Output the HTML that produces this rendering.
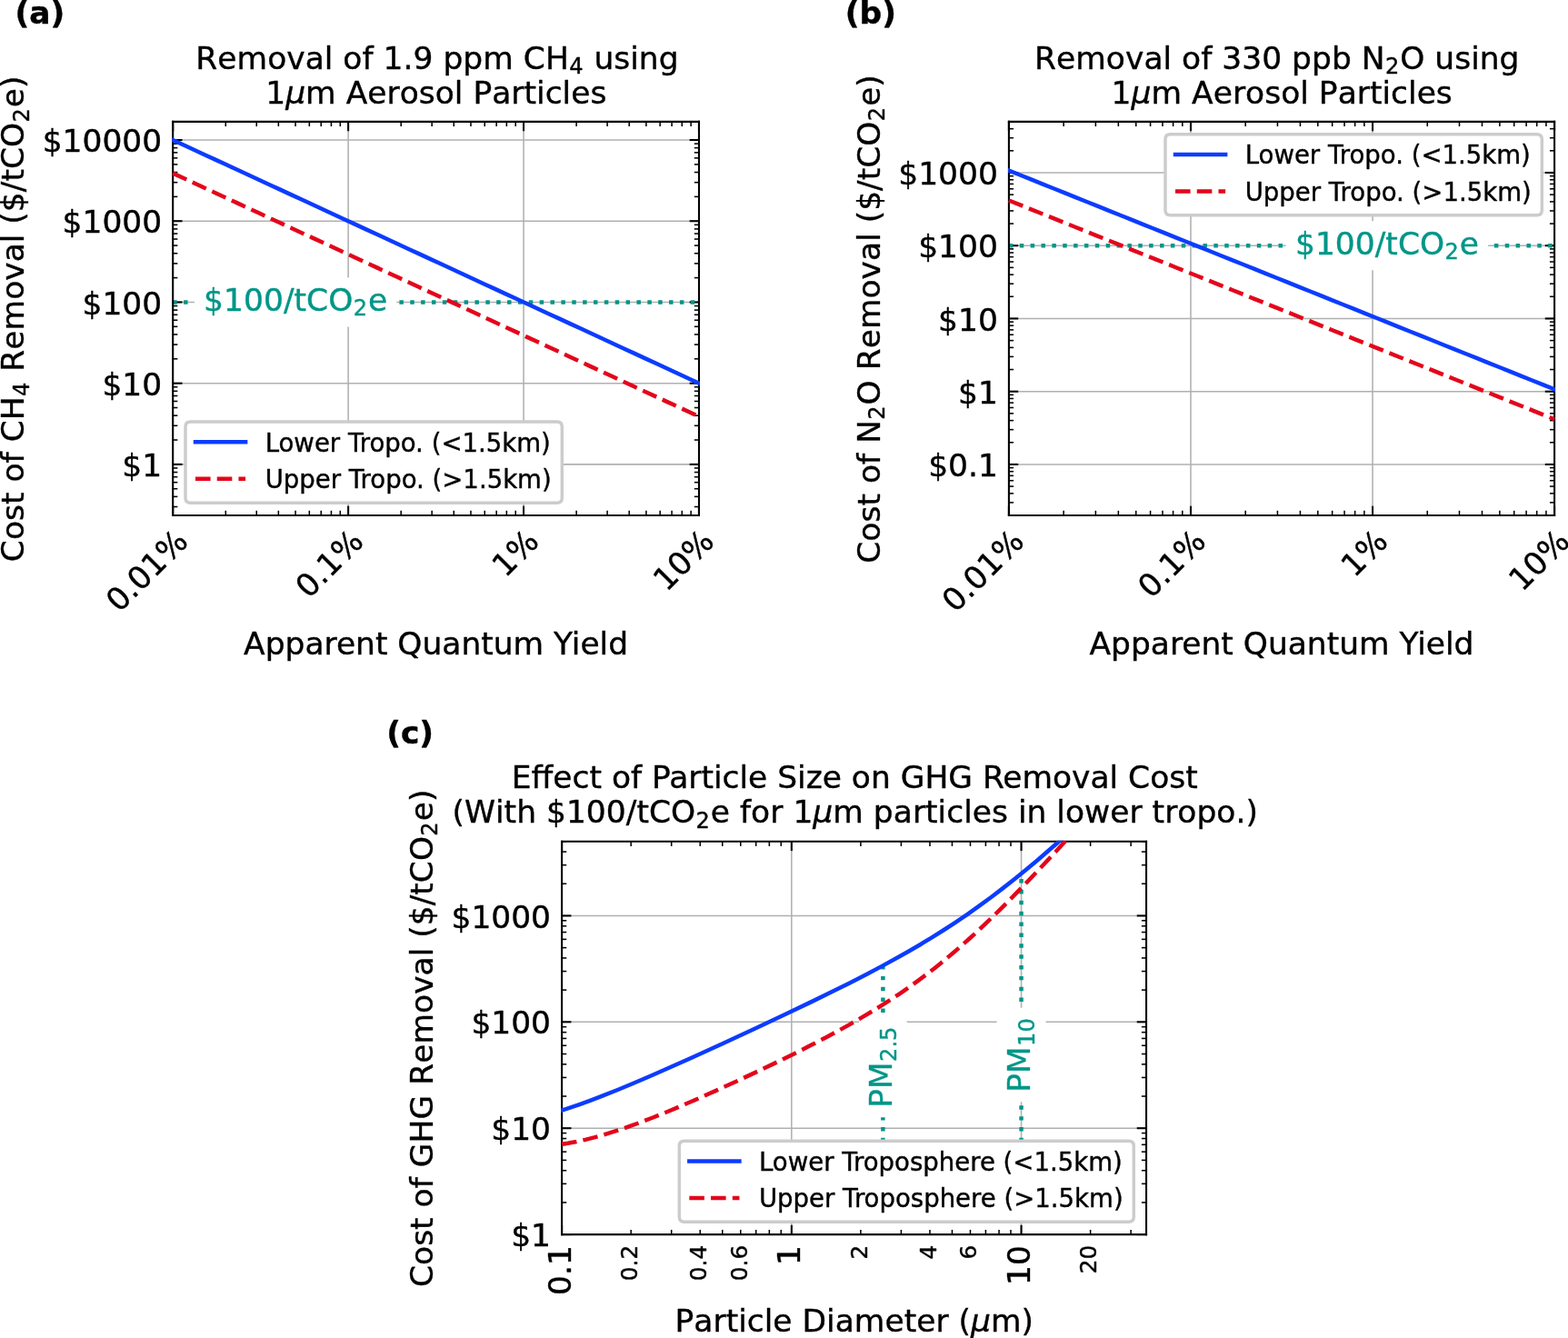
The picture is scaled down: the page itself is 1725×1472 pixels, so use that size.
<!DOCTYPE html>
<html lang="en"><head><meta charset="utf-8"><title>Figure</title>
<style>html,body{margin:0;padding:0;background:#fff}svg{display:block}text{font-family:"DejaVu Sans","Liberation Sans",sans-serif;stroke:#000;stroke-width:.4px;stroke-linejoin:round}tspan[style*="009688"]{stroke:#009688}</style></head>
<body>
<svg width="1725" height="1472" viewBox="0 0 1725 1472">
 <defs>
  <style type="text/css">*{stroke-linejoin: round; stroke-linecap: butt}</style>
 </defs>
 <g id="figure_1">
  <g id="patch_1">
   <path d="M 0 1472 L 1725 1472 L 1725 0 L 0 0 z
" style="fill: #ffffff"/>
  </g>
  <g id="axes_1">
   <g id="patch_2">
    <path d="M 190.2 566.95 L 768.96 566.95 L 768.96 133.9 L 190.2 133.9 z
" style="fill: #ffffff"/>
   </g>
   <g id="matplotlib.axis_1">
    <g id="xtick_1">
     <g id="line2d_1">
      <path d="M 190.2 566.95 L 190.2 133.9 
" clip-path="url(#pf84088dabc)" style="fill: none; stroke: #b0b0b0; stroke-width: 1.55; stroke-linecap: square"/>
     </g>
     <g id="line2d_2">
      <defs>
       <path id="m36705e40bf" d="M 0 0 L 0 -10.333333 
" style="stroke: #000000; stroke-width: 2.066667"/>
      </defs>
      <g>
       <use href="#m36705e40bf" x="190.2" y="566.95" style="stroke: #000000; stroke-width: 2.066667"/>
      </g>
     </g>
     <g id="line2d_3">
      <defs>
       <path id="me6bb0235ae" d="M 0 0 L 0 10.333333 
" style="stroke: #000000; stroke-width: 2.066667"/>
      </defs>
      <g>
       <use href="#me6bb0235ae" x="190.2" y="133.9" style="stroke: #000000; stroke-width: 2.066667"/>
      </g>
     </g>
     <g id="text_1">
      <text style="font-size: 34.444444px; text-anchor: end" x="208.706679" y="597.512234" transform="rotate(-45 208.706679 597.512234)">0.01%</text>
     </g>
    </g>
    <g id="xtick_2">
     <g id="line2d_4">
      <path d="M 383.12 566.95 L 383.12 133.9 
" clip-path="url(#pf84088dabc)" style="fill: none; stroke: #b0b0b0; stroke-width: 1.55; stroke-linecap: square"/>
     </g>
     <g id="line2d_5">
      <g>
       <use href="#m36705e40bf" x="383.12" y="566.95" style="stroke: #000000; stroke-width: 2.066667"/>
      </g>
     </g>
     <g id="line2d_6">
      <g>
       <use href="#me6bb0235ae" x="383.12" y="133.9" style="stroke: #000000; stroke-width: 2.066667"/>
      </g>
     </g>
     <g id="text_2">
      <text style="font-size: 34.444444px; text-anchor: end" x="401.626679" y="597.512234" transform="rotate(-45 401.626679 597.512234)">0.1%</text>
     </g>
    </g>
    <g id="xtick_3">
     <g id="line2d_7">
      <path d="M 576.04 566.95 L 576.04 133.9 
" clip-path="url(#pf84088dabc)" style="fill: none; stroke: #b0b0b0; stroke-width: 1.55; stroke-linecap: square"/>
     </g>
     <g id="line2d_8">
      <g>
       <use href="#m36705e40bf" x="576.04" y="566.95" style="stroke: #000000; stroke-width: 2.066667"/>
      </g>
     </g>
     <g id="line2d_9">
      <g>
       <use href="#me6bb0235ae" x="576.04" y="133.9" style="stroke: #000000; stroke-width: 2.066667"/>
      </g>
     </g>
     <g id="text_3">
      <text style="font-size: 34.444444px; text-anchor: end" x="594.546679" y="597.512234" transform="rotate(-45 594.546679 597.512234)">1%</text>
     </g>
    </g>
    <g id="xtick_4">
     <g id="line2d_10">
      <path d="M 768.96 566.95 L 768.96 133.9 
" clip-path="url(#pf84088dabc)" style="fill: none; stroke: #b0b0b0; stroke-width: 1.55; stroke-linecap: square"/>
     </g>
     <g id="line2d_11">
      <g>
       <use href="#m36705e40bf" x="768.96" y="566.95" style="stroke: #000000; stroke-width: 2.066667"/>
      </g>
     </g>
     <g id="line2d_12">
      <g>
       <use href="#me6bb0235ae" x="768.96" y="133.9" style="stroke: #000000; stroke-width: 2.066667"/>
      </g>
     </g>
     <g id="text_4">
      <text style="font-size: 34.444444px; text-anchor: end" x="787.466679" y="597.512234" transform="rotate(-45 787.466679 597.512234)">10%</text>
     </g>
    </g>
    <g id="xtick_5">
     <g id="line2d_13">
      <defs>
       <path id="me19a42edf8" d="M 0 0 L 0 -5.166667 
" style="stroke: #000000; stroke-width: 1.55"/>
      </defs>
      <g>
       <use href="#me19a42edf8" x="248.274707" y="566.95" style="stroke: #000000; stroke-width: 1.55"/>
      </g>
     </g>
     <g id="line2d_14">
      <defs>
       <path id="m64f8e5ad82" d="M 0 0 L 0 5.166667 
" style="stroke: #000000; stroke-width: 1.55"/>
      </defs>
      <g>
       <use href="#m64f8e5ad82" x="248.274707" y="133.9" style="stroke: #000000; stroke-width: 1.55"/>
      </g>
     </g>
    </g>
    <g id="xtick_6">
     <g id="line2d_15">
      <g>
       <use href="#me19a42edf8" x="282.246232" y="566.95" style="stroke: #000000; stroke-width: 1.55"/>
      </g>
     </g>
     <g id="line2d_16">
      <g>
       <use href="#m64f8e5ad82" x="282.246232" y="133.9" style="stroke: #000000; stroke-width: 1.55"/>
      </g>
     </g>
    </g>
    <g id="xtick_7">
     <g id="line2d_17">
      <g>
       <use href="#me19a42edf8" x="306.349414" y="566.95" style="stroke: #000000; stroke-width: 1.55"/>
      </g>
     </g>
     <g id="line2d_18">
      <g>
       <use href="#m64f8e5ad82" x="306.349414" y="133.9" style="stroke: #000000; stroke-width: 1.55"/>
      </g>
     </g>
    </g>
    <g id="xtick_8">
     <g id="line2d_19">
      <g>
       <use href="#me19a42edf8" x="325.045293" y="566.95" style="stroke: #000000; stroke-width: 1.55"/>
      </g>
     </g>
     <g id="line2d_20">
      <g>
       <use href="#m64f8e5ad82" x="325.045293" y="133.9" style="stroke: #000000; stroke-width: 1.55"/>
      </g>
     </g>
    </g>
    <g id="xtick_9">
     <g id="line2d_21">
      <g>
       <use href="#me19a42edf8" x="340.320939" y="566.95" style="stroke: #000000; stroke-width: 1.55"/>
      </g>
     </g>
     <g id="line2d_22">
      <g>
       <use href="#m64f8e5ad82" x="340.320939" y="133.9" style="stroke: #000000; stroke-width: 1.55"/>
      </g>
     </g>
    </g>
    <g id="xtick_10">
     <g id="line2d_23">
      <g>
       <use href="#me19a42edf8" x="353.236314" y="566.95" style="stroke: #000000; stroke-width: 1.55"/>
      </g>
     </g>
     <g id="line2d_24">
      <g>
       <use href="#m64f8e5ad82" x="353.236314" y="133.9" style="stroke: #000000; stroke-width: 1.55"/>
      </g>
     </g>
    </g>
    <g id="xtick_11">
     <g id="line2d_25">
      <g>
       <use href="#me19a42edf8" x="364.42412" y="566.95" style="stroke: #000000; stroke-width: 1.55"/>
      </g>
     </g>
     <g id="line2d_26">
      <g>
       <use href="#m64f8e5ad82" x="364.42412" y="133.9" style="stroke: #000000; stroke-width: 1.55"/>
      </g>
     </g>
    </g>
    <g id="xtick_12">
     <g id="line2d_27">
      <g>
       <use href="#me19a42edf8" x="374.292465" y="566.95" style="stroke: #000000; stroke-width: 1.55"/>
      </g>
     </g>
     <g id="line2d_28">
      <g>
       <use href="#m64f8e5ad82" x="374.292465" y="133.9" style="stroke: #000000; stroke-width: 1.55"/>
      </g>
     </g>
    </g>
    <g id="xtick_13">
     <g id="line2d_29">
      <g>
       <use href="#me19a42edf8" x="441.194707" y="566.95" style="stroke: #000000; stroke-width: 1.55"/>
      </g>
     </g>
     <g id="line2d_30">
      <g>
       <use href="#m64f8e5ad82" x="441.194707" y="133.9" style="stroke: #000000; stroke-width: 1.55"/>
      </g>
     </g>
    </g>
    <g id="xtick_14">
     <g id="line2d_31">
      <g>
       <use href="#me19a42edf8" x="475.166232" y="566.95" style="stroke: #000000; stroke-width: 1.55"/>
      </g>
     </g>
     <g id="line2d_32">
      <g>
       <use href="#m64f8e5ad82" x="475.166232" y="133.9" style="stroke: #000000; stroke-width: 1.55"/>
      </g>
     </g>
    </g>
    <g id="xtick_15">
     <g id="line2d_33">
      <g>
       <use href="#me19a42edf8" x="499.269414" y="566.95" style="stroke: #000000; stroke-width: 1.55"/>
      </g>
     </g>
     <g id="line2d_34">
      <g>
       <use href="#m64f8e5ad82" x="499.269414" y="133.9" style="stroke: #000000; stroke-width: 1.55"/>
      </g>
     </g>
    </g>
    <g id="xtick_16">
     <g id="line2d_35">
      <g>
       <use href="#me19a42edf8" x="517.965293" y="566.95" style="stroke: #000000; stroke-width: 1.55"/>
      </g>
     </g>
     <g id="line2d_36">
      <g>
       <use href="#m64f8e5ad82" x="517.965293" y="133.9" style="stroke: #000000; stroke-width: 1.55"/>
      </g>
     </g>
    </g>
    <g id="xtick_17">
     <g id="line2d_37">
      <g>
       <use href="#me19a42edf8" x="533.240939" y="566.95" style="stroke: #000000; stroke-width: 1.55"/>
      </g>
     </g>
     <g id="line2d_38">
      <g>
       <use href="#m64f8e5ad82" x="533.240939" y="133.9" style="stroke: #000000; stroke-width: 1.55"/>
      </g>
     </g>
    </g>
    <g id="xtick_18">
     <g id="line2d_39">
      <g>
       <use href="#me19a42edf8" x="546.156314" y="566.95" style="stroke: #000000; stroke-width: 1.55"/>
      </g>
     </g>
     <g id="line2d_40">
      <g>
       <use href="#m64f8e5ad82" x="546.156314" y="133.9" style="stroke: #000000; stroke-width: 1.55"/>
      </g>
     </g>
    </g>
    <g id="xtick_19">
     <g id="line2d_41">
      <g>
       <use href="#me19a42edf8" x="557.34412" y="566.95" style="stroke: #000000; stroke-width: 1.55"/>
      </g>
     </g>
     <g id="line2d_42">
      <g>
       <use href="#m64f8e5ad82" x="557.34412" y="133.9" style="stroke: #000000; stroke-width: 1.55"/>
      </g>
     </g>
    </g>
    <g id="xtick_20">
     <g id="line2d_43">
      <g>
       <use href="#me19a42edf8" x="567.212465" y="566.95" style="stroke: #000000; stroke-width: 1.55"/>
      </g>
     </g>
     <g id="line2d_44">
      <g>
       <use href="#m64f8e5ad82" x="567.212465" y="133.9" style="stroke: #000000; stroke-width: 1.55"/>
      </g>
     </g>
    </g>
    <g id="xtick_21">
     <g id="line2d_45">
      <g>
       <use href="#me19a42edf8" x="634.114707" y="566.95" style="stroke: #000000; stroke-width: 1.55"/>
      </g>
     </g>
     <g id="line2d_46">
      <g>
       <use href="#m64f8e5ad82" x="634.114707" y="133.9" style="stroke: #000000; stroke-width: 1.55"/>
      </g>
     </g>
    </g>
    <g id="xtick_22">
     <g id="line2d_47">
      <g>
       <use href="#me19a42edf8" x="668.086232" y="566.95" style="stroke: #000000; stroke-width: 1.55"/>
      </g>
     </g>
     <g id="line2d_48">
      <g>
       <use href="#m64f8e5ad82" x="668.086232" y="133.9" style="stroke: #000000; stroke-width: 1.55"/>
      </g>
     </g>
    </g>
    <g id="xtick_23">
     <g id="line2d_49">
      <g>
       <use href="#me19a42edf8" x="692.189414" y="566.95" style="stroke: #000000; stroke-width: 1.55"/>
      </g>
     </g>
     <g id="line2d_50">
      <g>
       <use href="#m64f8e5ad82" x="692.189414" y="133.9" style="stroke: #000000; stroke-width: 1.55"/>
      </g>
     </g>
    </g>
    <g id="xtick_24">
     <g id="line2d_51">
      <g>
       <use href="#me19a42edf8" x="710.885293" y="566.95" style="stroke: #000000; stroke-width: 1.55"/>
      </g>
     </g>
     <g id="line2d_52">
      <g>
       <use href="#m64f8e5ad82" x="710.885293" y="133.9" style="stroke: #000000; stroke-width: 1.55"/>
      </g>
     </g>
    </g>
    <g id="xtick_25">
     <g id="line2d_53">
      <g>
       <use href="#me19a42edf8" x="726.160939" y="566.95" style="stroke: #000000; stroke-width: 1.55"/>
      </g>
     </g>
     <g id="line2d_54">
      <g>
       <use href="#m64f8e5ad82" x="726.160939" y="133.9" style="stroke: #000000; stroke-width: 1.55"/>
      </g>
     </g>
    </g>
    <g id="xtick_26">
     <g id="line2d_55">
      <g>
       <use href="#me19a42edf8" x="739.076314" y="566.95" style="stroke: #000000; stroke-width: 1.55"/>
      </g>
     </g>
     <g id="line2d_56">
      <g>
       <use href="#m64f8e5ad82" x="739.076314" y="133.9" style="stroke: #000000; stroke-width: 1.55"/>
      </g>
     </g>
    </g>
    <g id="xtick_27">
     <g id="line2d_57">
      <g>
       <use href="#me19a42edf8" x="750.26412" y="566.95" style="stroke: #000000; stroke-width: 1.55"/>
      </g>
     </g>
     <g id="line2d_58">
      <g>
       <use href="#m64f8e5ad82" x="750.26412" y="133.9" style="stroke: #000000; stroke-width: 1.55"/>
      </g>
     </g>
    </g>
    <g id="xtick_28">
     <g id="line2d_59">
      <g>
       <use href="#me19a42edf8" x="760.132465" y="566.95" style="stroke: #000000; stroke-width: 1.55"/>
      </g>
     </g>
     <g id="line2d_60">
      <g>
       <use href="#m64f8e5ad82" x="760.132465" y="133.9" style="stroke: #000000; stroke-width: 1.55"/>
      </g>
     </g>
    </g>
    <g id="text_5">
     <text style="font-size: 34.444444px; text-anchor: middle" x="479.58" y="719.899519" transform="rotate(-0 479.58 719.899519)">Apparent Quantum Yield</text>
    </g>
   </g>
   <g id="matplotlib.axis_2">
    <g id="ytick_1">
     <g id="line2d_61">
      <path d="M 190.2 510.87 L 768.96 510.87 
" clip-path="url(#pf84088dabc)" style="fill: none; stroke: #b0b0b0; stroke-width: 1.55; stroke-linecap: square"/>
     </g>
     <g id="line2d_62">
      <defs>
       <path id="m5118e85f27" d="M 0 0 L 10.333333 0 
" style="stroke: #000000; stroke-width: 2.066667"/>
      </defs>
      <g>
       <use href="#m5118e85f27" x="190.2" y="510.87" style="stroke: #000000; stroke-width: 2.066667"/>
      </g>
     </g>
     <g id="line2d_63">
      <defs>
       <path id="mf02be981b4" d="M 0 0 L -10.333333 0 
" style="stroke: #000000; stroke-width: 2.066667"/>
      </defs>
      <g>
       <use href="#mf02be981b4" x="768.96" y="510.87" style="stroke: #000000; stroke-width: 2.066667"/>
      </g>
     </g>
     <g id="text_6">
      <text style="font-size: 34.444444px; text-anchor: end" x="178.144444" y="523.956198" transform="rotate(-0 178.144444 523.956198)">$1</text>
     </g>
    </g>
    <g id="ytick_2">
     <g id="line2d_64">
      <path d="M 190.2 421.66 L 768.96 421.66 
" clip-path="url(#pf84088dabc)" style="fill: none; stroke: #b0b0b0; stroke-width: 1.55; stroke-linecap: square"/>
     </g>
     <g id="line2d_65">
      <g>
       <use href="#m5118e85f27" x="190.2" y="421.66" style="stroke: #000000; stroke-width: 2.066667"/>
      </g>
     </g>
     <g id="line2d_66">
      <g>
       <use href="#mf02be981b4" x="768.96" y="421.66" style="stroke: #000000; stroke-width: 2.066667"/>
      </g>
     </g>
     <g id="text_7">
      <text style="font-size: 34.444444px; text-anchor: end" x="178.144444" y="434.746198" transform="rotate(-0 178.144444 434.746198)">$10</text>
     </g>
    </g>
    <g id="ytick_3">
     <g id="line2d_67">
      <path d="M 190.2 332.45 L 768.96 332.45 
" clip-path="url(#pf84088dabc)" style="fill: none; stroke: #b0b0b0; stroke-width: 1.55; stroke-linecap: square"/>
     </g>
     <g id="line2d_68">
      <g>
       <use href="#m5118e85f27" x="190.2" y="332.45" style="stroke: #000000; stroke-width: 2.066667"/>
      </g>
     </g>
     <g id="line2d_69">
      <g>
       <use href="#mf02be981b4" x="768.96" y="332.45" style="stroke: #000000; stroke-width: 2.066667"/>
      </g>
     </g>
     <g id="text_8">
      <text style="font-size: 34.444444px; text-anchor: end" x="178.144444" y="345.536198" transform="rotate(-0 178.144444 345.536198)">$100</text>
     </g>
    </g>
    <g id="ytick_4">
     <g id="line2d_70">
      <path d="M 190.2 243.24 L 768.96 243.24 
" clip-path="url(#pf84088dabc)" style="fill: none; stroke: #b0b0b0; stroke-width: 1.55; stroke-linecap: square"/>
     </g>
     <g id="line2d_71">
      <g>
       <use href="#m5118e85f27" x="190.2" y="243.24" style="stroke: #000000; stroke-width: 2.066667"/>
      </g>
     </g>
     <g id="line2d_72">
      <g>
       <use href="#mf02be981b4" x="768.96" y="243.24" style="stroke: #000000; stroke-width: 2.066667"/>
      </g>
     </g>
     <g id="text_9">
      <text style="font-size: 34.444444px; text-anchor: end" x="178.144444" y="256.326198" transform="rotate(-0 178.144444 256.326198)">$1000</text>
     </g>
    </g>
    <g id="ytick_5">
     <g id="line2d_73">
      <path d="M 190.2 154.03 L 768.96 154.03 
" clip-path="url(#pf84088dabc)" style="fill: none; stroke: #b0b0b0; stroke-width: 1.55; stroke-linecap: square"/>
     </g>
     <g id="line2d_74">
      <g>
       <use href="#m5118e85f27" x="190.2" y="154.03" style="stroke: #000000; stroke-width: 2.066667"/>
      </g>
     </g>
     <g id="line2d_75">
      <g>
       <use href="#mf02be981b4" x="768.96" y="154.03" style="stroke: #000000; stroke-width: 2.066667"/>
      </g>
     </g>
     <g id="text_10">
      <text style="font-size: 34.444444px; text-anchor: end" x="178.144444" y="167.116198" transform="rotate(-0 178.144444 167.116198)">$10000</text>
     </g>
    </g>
    <g id="ytick_6">
     <g id="line2d_76">
      <defs>
       <path id="mf9ce0bf6b2" d="M 0 0 L 5.166667 0 
" style="stroke: #000000; stroke-width: 1.55"/>
      </defs>
      <g>
       <use href="#mf9ce0bf6b2" x="190.2" y="557.516013" style="stroke: #000000; stroke-width: 1.55"/>
      </g>
     </g>
     <g id="line2d_77">
      <defs>
       <path id="mf81f3b6706" d="M 0 0 L -5.166667 0 
" style="stroke: #000000; stroke-width: 1.55"/>
      </defs>
      <g>
       <use href="#mf81f3b6706" x="768.96" y="557.516013" style="stroke: #000000; stroke-width: 1.55"/>
      </g>
     </g>
    </g>
    <g id="ytick_7">
     <g id="line2d_78">
      <g>
       <use href="#mf9ce0bf6b2" x="190.2" y="546.370228" style="stroke: #000000; stroke-width: 1.55"/>
      </g>
     </g>
     <g id="line2d_79">
      <g>
       <use href="#mf81f3b6706" x="768.96" y="546.370228" style="stroke: #000000; stroke-width: 1.55"/>
      </g>
     </g>
    </g>
    <g id="ytick_8">
     <g id="line2d_80">
      <g>
       <use href="#mf9ce0bf6b2" x="190.2" y="537.724886" style="stroke: #000000; stroke-width: 1.55"/>
      </g>
     </g>
     <g id="line2d_81">
      <g>
       <use href="#mf81f3b6706" x="768.96" y="537.724886" style="stroke: #000000; stroke-width: 1.55"/>
      </g>
     </g>
    </g>
    <g id="ytick_9">
     <g id="line2d_82">
      <g>
       <use href="#mf9ce0bf6b2" x="190.2" y="530.661127" style="stroke: #000000; stroke-width: 1.55"/>
      </g>
     </g>
     <g id="line2d_83">
      <g>
       <use href="#mf81f3b6706" x="768.96" y="530.661127" style="stroke: #000000; stroke-width: 1.55"/>
      </g>
     </g>
    </g>
    <g id="ytick_10">
     <g id="line2d_84">
      <g>
       <use href="#mf9ce0bf6b2" x="190.2" y="524.688804" style="stroke: #000000; stroke-width: 1.55"/>
      </g>
     </g>
     <g id="line2d_85">
      <g>
       <use href="#mf81f3b6706" x="768.96" y="524.688804" style="stroke: #000000; stroke-width: 1.55"/>
      </g>
     </g>
    </g>
    <g id="ytick_11">
     <g id="line2d_86">
      <g>
       <use href="#mf9ce0bf6b2" x="190.2" y="519.515342" style="stroke: #000000; stroke-width: 1.55"/>
      </g>
     </g>
     <g id="line2d_87">
      <g>
       <use href="#mf81f3b6706" x="768.96" y="519.515342" style="stroke: #000000; stroke-width: 1.55"/>
      </g>
     </g>
    </g>
    <g id="ytick_12">
     <g id="line2d_88">
      <g>
       <use href="#mf9ce0bf6b2" x="190.2" y="514.952026" style="stroke: #000000; stroke-width: 1.55"/>
      </g>
     </g>
     <g id="line2d_89">
      <g>
       <use href="#mf81f3b6706" x="768.96" y="514.952026" style="stroke: #000000; stroke-width: 1.55"/>
      </g>
     </g>
    </g>
    <g id="ytick_13">
     <g id="line2d_90">
      <g>
       <use href="#mf9ce0bf6b2" x="190.2" y="484.015114" style="stroke: #000000; stroke-width: 1.55"/>
      </g>
     </g>
     <g id="line2d_91">
      <g>
       <use href="#mf81f3b6706" x="768.96" y="484.015114" style="stroke: #000000; stroke-width: 1.55"/>
      </g>
     </g>
    </g>
    <g id="ytick_14">
     <g id="line2d_92">
      <g>
       <use href="#mf9ce0bf6b2" x="190.2" y="468.306013" style="stroke: #000000; stroke-width: 1.55"/>
      </g>
     </g>
     <g id="line2d_93">
      <g>
       <use href="#mf81f3b6706" x="768.96" y="468.306013" style="stroke: #000000; stroke-width: 1.55"/>
      </g>
     </g>
    </g>
    <g id="ytick_15">
     <g id="line2d_94">
      <g>
       <use href="#mf9ce0bf6b2" x="190.2" y="457.160228" style="stroke: #000000; stroke-width: 1.55"/>
      </g>
     </g>
     <g id="line2d_95">
      <g>
       <use href="#mf81f3b6706" x="768.96" y="457.160228" style="stroke: #000000; stroke-width: 1.55"/>
      </g>
     </g>
    </g>
    <g id="ytick_16">
     <g id="line2d_96">
      <g>
       <use href="#mf9ce0bf6b2" x="190.2" y="448.514886" style="stroke: #000000; stroke-width: 1.55"/>
      </g>
     </g>
     <g id="line2d_97">
      <g>
       <use href="#mf81f3b6706" x="768.96" y="448.514886" style="stroke: #000000; stroke-width: 1.55"/>
      </g>
     </g>
    </g>
    <g id="ytick_17">
     <g id="line2d_98">
      <g>
       <use href="#mf9ce0bf6b2" x="190.2" y="441.451127" style="stroke: #000000; stroke-width: 1.55"/>
      </g>
     </g>
     <g id="line2d_99">
      <g>
       <use href="#mf81f3b6706" x="768.96" y="441.451127" style="stroke: #000000; stroke-width: 1.55"/>
      </g>
     </g>
    </g>
    <g id="ytick_18">
     <g id="line2d_100">
      <g>
       <use href="#mf9ce0bf6b2" x="190.2" y="435.478804" style="stroke: #000000; stroke-width: 1.55"/>
      </g>
     </g>
     <g id="line2d_101">
      <g>
       <use href="#mf81f3b6706" x="768.96" y="435.478804" style="stroke: #000000; stroke-width: 1.55"/>
      </g>
     </g>
    </g>
    <g id="ytick_19">
     <g id="line2d_102">
      <g>
       <use href="#mf9ce0bf6b2" x="190.2" y="430.305342" style="stroke: #000000; stroke-width: 1.55"/>
      </g>
     </g>
     <g id="line2d_103">
      <g>
       <use href="#mf81f3b6706" x="768.96" y="430.305342" style="stroke: #000000; stroke-width: 1.55"/>
      </g>
     </g>
    </g>
    <g id="ytick_20">
     <g id="line2d_104">
      <g>
       <use href="#mf9ce0bf6b2" x="190.2" y="425.742026" style="stroke: #000000; stroke-width: 1.55"/>
      </g>
     </g>
     <g id="line2d_105">
      <g>
       <use href="#mf81f3b6706" x="768.96" y="425.742026" style="stroke: #000000; stroke-width: 1.55"/>
      </g>
     </g>
    </g>
    <g id="ytick_21">
     <g id="line2d_106">
      <g>
       <use href="#mf9ce0bf6b2" x="190.2" y="394.805114" style="stroke: #000000; stroke-width: 1.55"/>
      </g>
     </g>
     <g id="line2d_107">
      <g>
       <use href="#mf81f3b6706" x="768.96" y="394.805114" style="stroke: #000000; stroke-width: 1.55"/>
      </g>
     </g>
    </g>
    <g id="ytick_22">
     <g id="line2d_108">
      <g>
       <use href="#mf9ce0bf6b2" x="190.2" y="379.096013" style="stroke: #000000; stroke-width: 1.55"/>
      </g>
     </g>
     <g id="line2d_109">
      <g>
       <use href="#mf81f3b6706" x="768.96" y="379.096013" style="stroke: #000000; stroke-width: 1.55"/>
      </g>
     </g>
    </g>
    <g id="ytick_23">
     <g id="line2d_110">
      <g>
       <use href="#mf9ce0bf6b2" x="190.2" y="367.950228" style="stroke: #000000; stroke-width: 1.55"/>
      </g>
     </g>
     <g id="line2d_111">
      <g>
       <use href="#mf81f3b6706" x="768.96" y="367.950228" style="stroke: #000000; stroke-width: 1.55"/>
      </g>
     </g>
    </g>
    <g id="ytick_24">
     <g id="line2d_112">
      <g>
       <use href="#mf9ce0bf6b2" x="190.2" y="359.304886" style="stroke: #000000; stroke-width: 1.55"/>
      </g>
     </g>
     <g id="line2d_113">
      <g>
       <use href="#mf81f3b6706" x="768.96" y="359.304886" style="stroke: #000000; stroke-width: 1.55"/>
      </g>
     </g>
    </g>
    <g id="ytick_25">
     <g id="line2d_114">
      <g>
       <use href="#mf9ce0bf6b2" x="190.2" y="352.241127" style="stroke: #000000; stroke-width: 1.55"/>
      </g>
     </g>
     <g id="line2d_115">
      <g>
       <use href="#mf81f3b6706" x="768.96" y="352.241127" style="stroke: #000000; stroke-width: 1.55"/>
      </g>
     </g>
    </g>
    <g id="ytick_26">
     <g id="line2d_116">
      <g>
       <use href="#mf9ce0bf6b2" x="190.2" y="346.268804" style="stroke: #000000; stroke-width: 1.55"/>
      </g>
     </g>
     <g id="line2d_117">
      <g>
       <use href="#mf81f3b6706" x="768.96" y="346.268804" style="stroke: #000000; stroke-width: 1.55"/>
      </g>
     </g>
    </g>
    <g id="ytick_27">
     <g id="line2d_118">
      <g>
       <use href="#mf9ce0bf6b2" x="190.2" y="341.095342" style="stroke: #000000; stroke-width: 1.55"/>
      </g>
     </g>
     <g id="line2d_119">
      <g>
       <use href="#mf81f3b6706" x="768.96" y="341.095342" style="stroke: #000000; stroke-width: 1.55"/>
      </g>
     </g>
    </g>
    <g id="ytick_28">
     <g id="line2d_120">
      <g>
       <use href="#mf9ce0bf6b2" x="190.2" y="336.532026" style="stroke: #000000; stroke-width: 1.55"/>
      </g>
     </g>
     <g id="line2d_121">
      <g>
       <use href="#mf81f3b6706" x="768.96" y="336.532026" style="stroke: #000000; stroke-width: 1.55"/>
      </g>
     </g>
    </g>
    <g id="ytick_29">
     <g id="line2d_122">
      <g>
       <use href="#mf9ce0bf6b2" x="190.2" y="305.595114" style="stroke: #000000; stroke-width: 1.55"/>
      </g>
     </g>
     <g id="line2d_123">
      <g>
       <use href="#mf81f3b6706" x="768.96" y="305.595114" style="stroke: #000000; stroke-width: 1.55"/>
      </g>
     </g>
    </g>
    <g id="ytick_30">
     <g id="line2d_124">
      <g>
       <use href="#mf9ce0bf6b2" x="190.2" y="289.886013" style="stroke: #000000; stroke-width: 1.55"/>
      </g>
     </g>
     <g id="line2d_125">
      <g>
       <use href="#mf81f3b6706" x="768.96" y="289.886013" style="stroke: #000000; stroke-width: 1.55"/>
      </g>
     </g>
    </g>
    <g id="ytick_31">
     <g id="line2d_126">
      <g>
       <use href="#mf9ce0bf6b2" x="190.2" y="278.740228" style="stroke: #000000; stroke-width: 1.55"/>
      </g>
     </g>
     <g id="line2d_127">
      <g>
       <use href="#mf81f3b6706" x="768.96" y="278.740228" style="stroke: #000000; stroke-width: 1.55"/>
      </g>
     </g>
    </g>
    <g id="ytick_32">
     <g id="line2d_128">
      <g>
       <use href="#mf9ce0bf6b2" x="190.2" y="270.094886" style="stroke: #000000; stroke-width: 1.55"/>
      </g>
     </g>
     <g id="line2d_129">
      <g>
       <use href="#mf81f3b6706" x="768.96" y="270.094886" style="stroke: #000000; stroke-width: 1.55"/>
      </g>
     </g>
    </g>
    <g id="ytick_33">
     <g id="line2d_130">
      <g>
       <use href="#mf9ce0bf6b2" x="190.2" y="263.031127" style="stroke: #000000; stroke-width: 1.55"/>
      </g>
     </g>
     <g id="line2d_131">
      <g>
       <use href="#mf81f3b6706" x="768.96" y="263.031127" style="stroke: #000000; stroke-width: 1.55"/>
      </g>
     </g>
    </g>
    <g id="ytick_34">
     <g id="line2d_132">
      <g>
       <use href="#mf9ce0bf6b2" x="190.2" y="257.058804" style="stroke: #000000; stroke-width: 1.55"/>
      </g>
     </g>
     <g id="line2d_133">
      <g>
       <use href="#mf81f3b6706" x="768.96" y="257.058804" style="stroke: #000000; stroke-width: 1.55"/>
      </g>
     </g>
    </g>
    <g id="ytick_35">
     <g id="line2d_134">
      <g>
       <use href="#mf9ce0bf6b2" x="190.2" y="251.885342" style="stroke: #000000; stroke-width: 1.55"/>
      </g>
     </g>
     <g id="line2d_135">
      <g>
       <use href="#mf81f3b6706" x="768.96" y="251.885342" style="stroke: #000000; stroke-width: 1.55"/>
      </g>
     </g>
    </g>
    <g id="ytick_36">
     <g id="line2d_136">
      <g>
       <use href="#mf9ce0bf6b2" x="190.2" y="247.322026" style="stroke: #000000; stroke-width: 1.55"/>
      </g>
     </g>
     <g id="line2d_137">
      <g>
       <use href="#mf81f3b6706" x="768.96" y="247.322026" style="stroke: #000000; stroke-width: 1.55"/>
      </g>
     </g>
    </g>
    <g id="ytick_37">
     <g id="line2d_138">
      <g>
       <use href="#mf9ce0bf6b2" x="190.2" y="216.385114" style="stroke: #000000; stroke-width: 1.55"/>
      </g>
     </g>
     <g id="line2d_139">
      <g>
       <use href="#mf81f3b6706" x="768.96" y="216.385114" style="stroke: #000000; stroke-width: 1.55"/>
      </g>
     </g>
    </g>
    <g id="ytick_38">
     <g id="line2d_140">
      <g>
       <use href="#mf9ce0bf6b2" x="190.2" y="200.676013" style="stroke: #000000; stroke-width: 1.55"/>
      </g>
     </g>
     <g id="line2d_141">
      <g>
       <use href="#mf81f3b6706" x="768.96" y="200.676013" style="stroke: #000000; stroke-width: 1.55"/>
      </g>
     </g>
    </g>
    <g id="ytick_39">
     <g id="line2d_142">
      <g>
       <use href="#mf9ce0bf6b2" x="190.2" y="189.530228" style="stroke: #000000; stroke-width: 1.55"/>
      </g>
     </g>
     <g id="line2d_143">
      <g>
       <use href="#mf81f3b6706" x="768.96" y="189.530228" style="stroke: #000000; stroke-width: 1.55"/>
      </g>
     </g>
    </g>
    <g id="ytick_40">
     <g id="line2d_144">
      <g>
       <use href="#mf9ce0bf6b2" x="190.2" y="180.884886" style="stroke: #000000; stroke-width: 1.55"/>
      </g>
     </g>
     <g id="line2d_145">
      <g>
       <use href="#mf81f3b6706" x="768.96" y="180.884886" style="stroke: #000000; stroke-width: 1.55"/>
      </g>
     </g>
    </g>
    <g id="ytick_41">
     <g id="line2d_146">
      <g>
       <use href="#mf9ce0bf6b2" x="190.2" y="173.821127" style="stroke: #000000; stroke-width: 1.55"/>
      </g>
     </g>
     <g id="line2d_147">
      <g>
       <use href="#mf81f3b6706" x="768.96" y="173.821127" style="stroke: #000000; stroke-width: 1.55"/>
      </g>
     </g>
    </g>
    <g id="ytick_42">
     <g id="line2d_148">
      <g>
       <use href="#mf9ce0bf6b2" x="190.2" y="167.848804" style="stroke: #000000; stroke-width: 1.55"/>
      </g>
     </g>
     <g id="line2d_149">
      <g>
       <use href="#mf81f3b6706" x="768.96" y="167.848804" style="stroke: #000000; stroke-width: 1.55"/>
      </g>
     </g>
    </g>
    <g id="ytick_43">
     <g id="line2d_150">
      <g>
       <use href="#mf9ce0bf6b2" x="190.2" y="162.675342" style="stroke: #000000; stroke-width: 1.55"/>
      </g>
     </g>
     <g id="line2d_151">
      <g>
       <use href="#mf81f3b6706" x="768.96" y="162.675342" style="stroke: #000000; stroke-width: 1.55"/>
      </g>
     </g>
    </g>
    <g id="ytick_44">
     <g id="line2d_152">
      <g>
       <use href="#mf9ce0bf6b2" x="190.2" y="158.112026" style="stroke: #000000; stroke-width: 1.55"/>
      </g>
     </g>
     <g id="line2d_153">
      <g>
       <use href="#mf81f3b6706" x="768.96" y="158.112026" style="stroke: #000000; stroke-width: 1.55"/>
      </g>
     </g>
    </g>
    <g id="text_11">
     <!-- Cost of CH$_4$ Removal (\$/tCO$_2$e) -->
     <g transform="translate(26.2116 618.1694) rotate(-90)">
      <text>
       <tspan x="0" y="-0.171875" style="font-size: 34.444444px">C</tspan>
       <tspan x="24.089355" y="-0.171875" style="font-size: 34.444444px">o</tspan>
       <tspan x="45.197021" y="-0.171875" style="font-size: 34.444444px">s</tspan>
       <tspan x="63.171387" y="-0.171875" style="font-size: 34.444444px">t</tspan>
       <tspan x="76.698486" y="-0.171875" style="font-size: 34.444444px"> </tspan>
       <tspan x="87.665039" y="-0.171875" style="font-size: 34.444444px">o</tspan>
       <tspan x="108.772705" y="-0.171875" style="font-size: 34.444444px">f</tspan>
       <tspan x="120.918457" y="-0.171875" style="font-size: 34.444444px"> </tspan>
       <tspan x="131.88501" y="-0.171875" style="font-size: 34.444444px">C</tspan>
       <tspan x="155.974365" y="-0.171875" style="font-size: 34.444444px">H</tspan>
       <tspan x="198.536792" y="-0.171875" style="font-size: 34.444444px"> </tspan>
       <tspan x="209.503345" y="-0.171875" style="font-size: 34.444444px">R</tspan>
       <tspan x="233.47478" y="-0.171875" style="font-size: 34.444444px">e</tspan>
       <tspan x="254.700366" y="-0.171875" style="font-size: 34.444444px">m</tspan>
       <tspan x="288.307544" y="-0.171875" style="font-size: 34.444444px">o</tspan>
       <tspan x="309.41521" y="-0.171875" style="font-size: 34.444444px">v</tspan>
       <tspan x="329.832202" y="-0.171875" style="font-size: 34.444444px">a</tspan>
       <tspan x="350.97356" y="-0.171875" style="font-size: 34.444444px">l</tspan>
       <tspan x="360.558765" y="-0.171875" style="font-size: 34.444444px"> </tspan>
       <tspan x="371.525317" y="-0.171875" style="font-size: 34.444444px">(</tspan>
       <tspan x="384.985034" y="-0.171875" style="font-size: 34.444444px">$</tspan>
       <tspan x="406.934985" y="-0.171875" style="font-size: 34.444444px">/</tspan>
       <tspan x="418.558521" y="-0.171875" style="font-size: 34.444444px">t</tspan>
       <tspan x="432.08562" y="-0.171875" style="font-size: 34.444444px">C</tspan>
       <tspan x="456.174976" y="-0.171875" style="font-size: 34.444444px">O</tspan>
       <tspan x="499.950293" y="-0.171875" style="font-size: 34.444444px">e</tspan>
       <tspan x="521.175879" y="-0.171875" style="font-size: 34.444444px">)</tspan>
       <tspan x="182.242139" y="5.40625" style="font-size: 24.111111px">4</tspan>
       <tspan x="483.65564" y="5.40625" style="font-size: 24.111111px">2</tspan>
      </text>
     </g>
    </g>
   </g>
   <g id="line2d_154">
    <path d="M 190.2 332.45 L 768.96 332.45 
" clip-path="url(#pf84088dabc)" style="fill: none; stroke-dasharray: 4.477778,7.388333; stroke-dashoffset: 0; stroke: #009688; stroke-width: 4.477778"/>
   </g>
   <g id="patch_3">
    <path d="M 190.2 566.95 L 190.2 133.9 
" style="fill: none; stroke: #000000; stroke-width: 2.066667; stroke-linejoin: miter; stroke-linecap: square"/>
   </g>
   <g id="patch_4">
    <path d="M 768.96 566.95 L 768.96 133.9 
" style="fill: none; stroke: #000000; stroke-width: 2.066667; stroke-linejoin: miter; stroke-linecap: square"/>
   </g>
   <g id="patch_5">
    <path d="M 190.2 566.95 L 768.96 566.95 
" style="fill: none; stroke: #000000; stroke-width: 2.066667; stroke-linejoin: miter; stroke-linecap: square"/>
   </g>
   <g id="patch_6">
    <path d="M 190.2 133.9 L 768.96 133.9 
" style="fill: none; stroke: #000000; stroke-width: 2.066667; stroke-linejoin: miter; stroke-linecap: square"/>
   </g>
   <g id="text_12">
    <g id="patch_7">
     <path d="M 224.123071 359.451215 L 425.967515 359.451215 Q 436.300849 359.451215 436.300849 349.117882 L 436.300849 315.782118 Q 436.300849 305.448785 425.967515 305.448785 L 224.123071 305.448785 Q 213.789738 305.448785 213.789738 315.782118 L 213.789738 349.117882 Q 213.789738 359.451215 224.123071 359.451215 z
" style="fill: #ffffff"/>
    </g>
    <!-- \$100/tCO$_2$e -->
    <g style="fill: #009688" transform="translate(224.123071 341.954514)">
     <text>
      <tspan x="0" y="-0.171875" style="font-size: 34.444444px; fill: #009688">$</tspan>
      <tspan x="21.949951" y="-0.171875" style="font-size: 34.444444px; fill: #009688">1</tspan>
      <tspan x="43.899902" y="-0.171875" style="font-size: 34.444444px; fill: #009688">0</tspan>
      <tspan x="65.849854" y="-0.171875" style="font-size: 34.444444px; fill: #009688">0</tspan>
      <tspan x="87.799805" y="-0.171875" style="font-size: 34.444444px; fill: #009688">/</tspan>
      <tspan x="99.42334" y="-0.171875" style="font-size: 34.444444px; fill: #009688">t</tspan>
      <tspan x="112.950439" y="-0.171875" style="font-size: 34.444444px; fill: #009688">C</tspan>
      <tspan x="137.039795" y="-0.171875" style="font-size: 34.444444px; fill: #009688">O</tspan>
      <tspan x="180.815112" y="-0.171875" style="font-size: 34.444444px; fill: #009688">e</tspan>
      <tspan x="164.520459" y="5.40625" style="font-size: 24.111111px; fill: #009688">2</tspan>
     </text>
    </g>
   </g>
   <g id="text_13">
    <text style="font-weight: 700; font-size: 34.444444px; text-anchor: start" x="16.572" y="25.619457" transform="rotate(-0 16.572 25.619457)">(a)</text>
   </g>
   <g id="text_14">
    <!-- Removal of 1.9 ppm CH$_4$ using -->
    <g transform="translate(215.3578 75.7867)">
     <text>
      <tspan x="0" y="-0.171875" style="font-size: 34.444444px">R</tspan>
      <tspan x="23.971436" y="-0.171875" style="font-size: 34.444444px">e</tspan>
      <tspan x="45.197021" y="-0.171875" style="font-size: 34.444444px">m</tspan>
      <tspan x="78.804199" y="-0.171875" style="font-size: 34.444444px">o</tspan>
      <tspan x="99.911865" y="-0.171875" style="font-size: 34.444444px">v</tspan>
      <tspan x="120.328857" y="-0.171875" style="font-size: 34.444444px">a</tspan>
      <tspan x="141.470215" y="-0.171875" style="font-size: 34.444444px">l</tspan>
      <tspan x="151.05542" y="-0.171875" style="font-size: 34.444444px"> </tspan>
      <tspan x="162.021973" y="-0.171875" style="font-size: 34.444444px">o</tspan>
      <tspan x="183.129639" y="-0.171875" style="font-size: 34.444444px">f</tspan>
      <tspan x="195.275391" y="-0.171875" style="font-size: 34.444444px"> </tspan>
      <tspan x="206.241943" y="-0.171875" style="font-size: 34.444444px">1</tspan>
      <tspan x="228.191895" y="-0.171875" style="font-size: 34.444444px">.</tspan>
      <tspan x="239.158447" y="-0.171875" style="font-size: 34.444444px">9</tspan>
      <tspan x="261.108398" y="-0.171875" style="font-size: 34.444444px"> </tspan>
      <tspan x="272.074951" y="-0.171875" style="font-size: 34.444444px">p</tspan>
      <tspan x="293.974365" y="-0.171875" style="font-size: 34.444444px">p</tspan>
      <tspan x="315.873779" y="-0.171875" style="font-size: 34.444444px">m</tspan>
      <tspan x="349.480957" y="-0.171875" style="font-size: 34.444444px"> </tspan>
      <tspan x="360.44751" y="-0.171875" style="font-size: 34.444444px">C</tspan>
      <tspan x="384.536865" y="-0.171875" style="font-size: 34.444444px">H</tspan>
      <tspan x="427.099292" y="-0.171875" style="font-size: 34.444444px"> </tspan>
      <tspan x="438.065845" y="-0.171875" style="font-size: 34.444444px">u</tspan>
      <tspan x="459.931567" y="-0.171875" style="font-size: 34.444444px">s</tspan>
      <tspan x="477.905933" y="-0.171875" style="font-size: 34.444444px">i</tspan>
      <tspan x="487.491138" y="-0.171875" style="font-size: 34.444444px">n</tspan>
      <tspan x="509.35686" y="-0.171875" style="font-size: 34.444444px">g</tspan>
      <tspan x="410.804639" y="5.40625" style="font-size: 24.111111px">4</tspan>
     </text>
    </g>
    <!-- 1$\mu$m Aerosol Particles -->
    <g transform="translate(292.2022 113.8333)">
     <text>
      <tspan x="0" y="-0.171875" style="font-size: 34.444444px">1</tspan>
      <tspan x="43.899902" y="-0.171875" style="font-size: 34.444444px">m</tspan>
      <tspan x="77.50708" y="-0.171875" style="font-size: 34.444444px"> </tspan>
      <tspan x="88.473633" y="-0.171875" style="font-size: 34.444444px">A</tspan>
      <tspan x="112.074463" y="-0.171875" style="font-size: 34.444444px">e</tspan>
      <tspan x="133.300049" y="-0.171875" style="font-size: 34.444444px">r</tspan>
      <tspan x="147.484131" y="-0.171875" style="font-size: 34.444444px">o</tspan>
      <tspan x="168.591797" y="-0.171875" style="font-size: 34.444444px">s</tspan>
      <tspan x="186.566162" y="-0.171875" style="font-size: 34.444444px">o</tspan>
      <tspan x="207.673828" y="-0.171875" style="font-size: 34.444444px">l</tspan>
      <tspan x="217.259033" y="-0.171875" style="font-size: 34.444444px"> </tspan>
      <tspan x="228.225586" y="-0.171875" style="font-size: 34.444444px">P</tspan>
      <tspan x="249.030029" y="-0.171875" style="font-size: 34.444444px">a</tspan>
      <tspan x="270.171387" y="-0.171875" style="font-size: 34.444444px">r</tspan>
      <tspan x="284.355469" y="-0.171875" style="font-size: 34.444444px">t</tspan>
      <tspan x="297.882568" y="-0.171875" style="font-size: 34.444444px">i</tspan>
      <tspan x="307.467773" y="-0.171875" style="font-size: 34.444444px">c</tspan>
      <tspan x="326.436035" y="-0.171875" style="font-size: 34.444444px">l</tspan>
      <tspan x="336.02124" y="-0.171875" style="font-size: 34.444444px">e</tspan>
      <tspan x="357.246826" y="-0.171875" style="font-size: 34.444444px">s</tspan>
      <tspan x="21.949951" y="-0.171875" style="font-style: oblique; font-size: 34.444444px">μ</tspan>
     </text>
    </g>
   </g>
   <g id="line2d_155">
    <path d="M 190.2 154.03 L 202.011429 159.491837 L 213.822857 164.953673 L 225.634286 170.41551 L 237.445714 175.877347 L 249.257143 181.339184 L 261.068571 186.80102 L 272.88 192.262857 L 284.691429 197.724694 L 296.502857 203.186531 L 308.314286 208.648367 L 320.125714 214.110204 L 331.937143 219.572041 L 343.748571 225.033878 L 355.56 230.495714 L 367.371429 235.957551 L 379.182857 241.419388 L 390.994286 246.881224 L 402.805714 252.343061 L 414.617143 257.804898 L 426.428571 263.266735 L 438.24 268.728571 L 450.051429 274.190408 L 461.862857 279.652245 L 473.674286 285.114082 L 485.485714 290.575918 L 497.297143 296.037755 L 509.108571 301.499592 L 520.92 306.961429 L 532.731429 312.423265 L 544.542857 317.885102 L 556.354286 323.346939 L 568.165714 328.808776 L 579.977143 334.270612 L 591.788571 339.732449 L 603.6 345.194286 L 615.411429 350.656122 L 627.222857 356.117959 L 639.034286 361.579796 L 650.845714 367.041633 L 662.657143 372.503469 L 674.468571 377.965306 L 686.28 383.427143 L 698.091429 388.88898 L 709.902857 394.350816 L 721.714286 399.812653 L 733.525714 405.27449 L 745.337143 410.736327 L 757.148571 416.198163 L 768.96 421.66 
" clip-path="url(#pf84088dabc)" style="fill: none; stroke: #0c3cff; stroke-width: 4.477778; stroke-linecap: square"/>
   </g>
   <g id="line2d_156">
    <path d="M 190.2 190.615206 L 202.011429 196.077043 L 213.822857 201.53888 L 225.634286 207.000716 L 237.445714 212.462553 L 249.257143 217.92439 L 261.068571 223.386227 L 272.88 228.848063 L 284.691429 234.3099 L 296.502857 239.771737 L 308.314286 245.233574 L 320.125714 250.69541 L 331.937143 256.157247 L 343.748571 261.619084 L 355.56 267.080921 L 367.371429 272.542757 L 379.182857 278.004594 L 390.994286 283.466431 L 402.805714 288.928267 L 414.617143 294.390104 L 426.428571 299.851941 L 438.24 305.313778 L 450.051429 310.775614 L 461.862857 316.237451 L 473.674286 321.699288 L 485.485714 327.161125 L 497.297143 332.622961 L 509.108571 338.084798 L 520.92 343.546635 L 532.731429 349.008472 L 544.542857 354.470308 L 556.354286 359.932145 L 568.165714 365.393982 L 579.977143 370.855819 L 591.788571 376.317655 L 603.6 381.779492 L 615.411429 387.241329 L 627.222857 392.703165 L 639.034286 398.165002 L 650.845714 403.626839 L 662.657143 409.088676 L 674.468571 414.550512 L 686.28 420.012349 L 698.091429 425.474186 L 709.902857 430.936023 L 721.714286 436.397859 L 733.525714 441.859696 L 745.337143 447.321533 L 757.148571 452.78337 L 768.96 458.245206 
" clip-path="url(#pf84088dabc)" style="fill: none; stroke-dasharray: 16.567778,7.164444; stroke-dashoffset: 0; stroke: #e3061b; stroke-width: 4.477778"/>
   </g>
   <g id="legend_1">
    <g id="patch_8">
     <path d="M 209.488889 553.172222 L 612.794583 553.172222 Q 618.305694 553.172222 618.305694 547.661111 L 618.305694 469.523889 Q 618.305694 464.012778 612.794583 464.012778 L 209.488889 464.012778 Q 203.977778 464.012778 203.977778 469.523889 L 203.977778 547.661111 Q 203.977778 553.172222 209.488889 553.172222 z
" style="fill: #ffffff; stroke: #cccccc; stroke-width: 3.444444; stroke-linejoin: miter"/>
    </g>
    <g id="line2d_157">
     <path d="M 215 486.328472 L 242.555556 486.328472 L 270.111111 486.328472 
" style="fill: none; stroke: #0c3cff; stroke-width: 4.477778; stroke-linecap: square"/>
    </g>
    <g id="text_15">
     <text style="font-size: 27.555556px; text-anchor: start" x="291.6556" y="496.6729" transform="rotate(-0 291.6556 496.6729)">Lower Tropo. (&lt;1.5km)</text>
    </g>
    <g id="line2d_158">
     <path d="M 215 526.774861 L 242.555556 526.774861 L 270.111111 526.774861 
" style="fill: none; stroke-dasharray: 16.567778,7.164444; stroke-dashoffset: 0; stroke: #e3061b; stroke-width: 4.477778"/>
    </g>
    <g id="text_16">
     <text style="font-size: 27.555556px; text-anchor: start" x="291.6556" y="537.1193" transform="rotate(-0 291.6556 537.1193)">Upper Tropo. (&gt;1.5km)</text>
    </g>
   </g>
  </g>
  <g id="axes_2">
   <g id="patch_9">
    <path d="M 1109.9 567 L 1710.1 567 L 1710.1 133.9 L 1109.9 133.9 z
" style="fill: #ffffff"/>
   </g>
   <g id="matplotlib.axis_3">
    <g id="xtick_29">
     <g id="line2d_159">
      <path d="M 1109.9 567 L 1109.9 133.9 
" clip-path="url(#p70f6478031)" style="fill: none; stroke: #b0b0b0; stroke-width: 1.55; stroke-linecap: square"/>
     </g>
     <g id="line2d_160">
      <g>
       <use href="#m36705e40bf" x="1109.9" y="567" style="stroke: #000000; stroke-width: 2.066667"/>
      </g>
     </g>
     <g id="line2d_161">
      <g>
       <use href="#me6bb0235ae" x="1109.9" y="133.9" style="stroke: #000000; stroke-width: 2.066667"/>
      </g>
     </g>
     <g id="text_17">
      <text style="font-size: 34.444444px; text-anchor: end" x="1128.406679" y="597.562234" transform="rotate(-45 1128.406679 597.562234)">0.01%</text>
     </g>
    </g>
    <g id="xtick_30">
     <g id="line2d_162">
      <path d="M 1309.966667 567 L 1309.966667 133.9 
" clip-path="url(#p70f6478031)" style="fill: none; stroke: #b0b0b0; stroke-width: 1.55; stroke-linecap: square"/>
     </g>
     <g id="line2d_163">
      <g>
       <use href="#m36705e40bf" x="1309.966667" y="567" style="stroke: #000000; stroke-width: 2.066667"/>
      </g>
     </g>
     <g id="line2d_164">
      <g>
       <use href="#me6bb0235ae" x="1309.966667" y="133.9" style="stroke: #000000; stroke-width: 2.066667"/>
      </g>
     </g>
     <g id="text_18">
      <text style="font-size: 34.444444px; text-anchor: end" x="1328.473345" y="597.562234" transform="rotate(-45 1328.473345 597.562234)">0.1%</text>
     </g>
    </g>
    <g id="xtick_31">
     <g id="line2d_165">
      <path d="M 1510.033333 567 L 1510.033333 133.9 
" clip-path="url(#p70f6478031)" style="fill: none; stroke: #b0b0b0; stroke-width: 1.55; stroke-linecap: square"/>
     </g>
     <g id="line2d_166">
      <g>
       <use href="#m36705e40bf" x="1510.033333" y="567" style="stroke: #000000; stroke-width: 2.066667"/>
      </g>
     </g>
     <g id="line2d_167">
      <g>
       <use href="#me6bb0235ae" x="1510.033333" y="133.9" style="stroke: #000000; stroke-width: 2.066667"/>
      </g>
     </g>
     <g id="text_19">
      <text style="font-size: 34.444444px; text-anchor: end" x="1528.540012" y="597.562234" transform="rotate(-45 1528.540012 597.562234)">1%</text>
     </g>
    </g>
    <g id="xtick_32">
     <g id="line2d_168">
      <path d="M 1710.1 567 L 1710.1 133.9 
" clip-path="url(#p70f6478031)" style="fill: none; stroke: #b0b0b0; stroke-width: 1.55; stroke-linecap: square"/>
     </g>
     <g id="line2d_169">
      <g>
       <use href="#m36705e40bf" x="1710.1" y="567" style="stroke: #000000; stroke-width: 2.066667"/>
      </g>
     </g>
     <g id="line2d_170">
      <g>
       <use href="#me6bb0235ae" x="1710.1" y="133.9" style="stroke: #000000; stroke-width: 2.066667"/>
      </g>
     </g>
     <g id="text_20">
      <text style="font-size: 34.444444px; text-anchor: end" x="1728.606679" y="597.562234" transform="rotate(-45 1728.606679 597.562234)">10%</text>
     </g>
    </g>
    <g id="xtick_33">
     <g id="line2d_171">
      <g>
       <use href="#me19a42edf8" x="1170.126068" y="567" style="stroke: #000000; stroke-width: 1.55"/>
      </g>
     </g>
     <g id="line2d_172">
      <g>
       <use href="#m64f8e5ad82" x="1170.126068" y="133.9" style="stroke: #000000; stroke-width: 1.55"/>
      </g>
     </g>
    </g>
    <g id="xtick_34">
     <g id="line2d_173">
      <g>
       <use href="#me19a42edf8" x="1205.356059" y="567" style="stroke: #000000; stroke-width: 1.55"/>
      </g>
     </g>
     <g id="line2d_174">
      <g>
       <use href="#m64f8e5ad82" x="1205.356059" y="133.9" style="stroke: #000000; stroke-width: 1.55"/>
      </g>
     </g>
    </g>
    <g id="xtick_35">
     <g id="line2d_175">
      <g>
       <use href="#me19a42edf8" x="1230.352136" y="567" style="stroke: #000000; stroke-width: 1.55"/>
      </g>
     </g>
     <g id="line2d_176">
      <g>
       <use href="#m64f8e5ad82" x="1230.352136" y="133.9" style="stroke: #000000; stroke-width: 1.55"/>
      </g>
     </g>
    </g>
    <g id="xtick_36">
     <g id="line2d_177">
      <g>
       <use href="#me19a42edf8" x="1249.740599" y="567" style="stroke: #000000; stroke-width: 1.55"/>
      </g>
     </g>
     <g id="line2d_178">
      <g>
       <use href="#m64f8e5ad82" x="1249.740599" y="133.9" style="stroke: #000000; stroke-width: 1.55"/>
      </g>
     </g>
    </g>
    <g id="xtick_37">
     <g id="line2d_179">
      <g>
       <use href="#me19a42edf8" x="1265.582127" y="567" style="stroke: #000000; stroke-width: 1.55"/>
      </g>
     </g>
     <g id="line2d_180">
      <g>
       <use href="#m64f8e5ad82" x="1265.582127" y="133.9" style="stroke: #000000; stroke-width: 1.55"/>
      </g>
     </g>
    </g>
    <g id="xtick_38">
     <g id="line2d_181">
      <g>
       <use href="#me19a42edf8" x="1278.975948" y="567" style="stroke: #000000; stroke-width: 1.55"/>
      </g>
     </g>
     <g id="line2d_182">
      <g>
       <use href="#m64f8e5ad82" x="1278.975948" y="133.9" style="stroke: #000000; stroke-width: 1.55"/>
      </g>
     </g>
    </g>
    <g id="xtick_39">
     <g id="line2d_183">
      <g>
       <use href="#me19a42edf8" x="1290.578203" y="567" style="stroke: #000000; stroke-width: 1.55"/>
      </g>
     </g>
     <g id="line2d_184">
      <g>
       <use href="#m64f8e5ad82" x="1290.578203" y="133.9" style="stroke: #000000; stroke-width: 1.55"/>
      </g>
     </g>
    </g>
    <g id="xtick_40">
     <g id="line2d_185">
      <g>
       <use href="#me19a42edf8" x="1300.812118" y="567" style="stroke: #000000; stroke-width: 1.55"/>
      </g>
     </g>
     <g id="line2d_186">
      <g>
       <use href="#m64f8e5ad82" x="1300.812118" y="133.9" style="stroke: #000000; stroke-width: 1.55"/>
      </g>
     </g>
    </g>
    <g id="xtick_41">
     <g id="line2d_187">
      <g>
       <use href="#me19a42edf8" x="1370.192734" y="567" style="stroke: #000000; stroke-width: 1.55"/>
      </g>
     </g>
     <g id="line2d_188">
      <g>
       <use href="#m64f8e5ad82" x="1370.192734" y="133.9" style="stroke: #000000; stroke-width: 1.55"/>
      </g>
     </g>
    </g>
    <g id="xtick_42">
     <g id="line2d_189">
      <g>
       <use href="#me19a42edf8" x="1405.422726" y="567" style="stroke: #000000; stroke-width: 1.55"/>
      </g>
     </g>
     <g id="line2d_190">
      <g>
       <use href="#m64f8e5ad82" x="1405.422726" y="133.9" style="stroke: #000000; stroke-width: 1.55"/>
      </g>
     </g>
    </g>
    <g id="xtick_43">
     <g id="line2d_191">
      <g>
       <use href="#me19a42edf8" x="1430.418802" y="567" style="stroke: #000000; stroke-width: 1.55"/>
      </g>
     </g>
     <g id="line2d_192">
      <g>
       <use href="#m64f8e5ad82" x="1430.418802" y="133.9" style="stroke: #000000; stroke-width: 1.55"/>
      </g>
     </g>
    </g>
    <g id="xtick_44">
     <g id="line2d_193">
      <g>
       <use href="#me19a42edf8" x="1449.807266" y="567" style="stroke: #000000; stroke-width: 1.55"/>
      </g>
     </g>
     <g id="line2d_194">
      <g>
       <use href="#m64f8e5ad82" x="1449.807266" y="133.9" style="stroke: #000000; stroke-width: 1.55"/>
      </g>
     </g>
    </g>
    <g id="xtick_45">
     <g id="line2d_195">
      <g>
       <use href="#me19a42edf8" x="1465.648793" y="567" style="stroke: #000000; stroke-width: 1.55"/>
      </g>
     </g>
     <g id="line2d_196">
      <g>
       <use href="#m64f8e5ad82" x="1465.648793" y="133.9" style="stroke: #000000; stroke-width: 1.55"/>
      </g>
     </g>
    </g>
    <g id="xtick_46">
     <g id="line2d_197">
      <g>
       <use href="#me19a42edf8" x="1479.042615" y="567" style="stroke: #000000; stroke-width: 1.55"/>
      </g>
     </g>
     <g id="line2d_198">
      <g>
       <use href="#m64f8e5ad82" x="1479.042615" y="133.9" style="stroke: #000000; stroke-width: 1.55"/>
      </g>
     </g>
    </g>
    <g id="xtick_47">
     <g id="line2d_199">
      <g>
       <use href="#me19a42edf8" x="1490.64487" y="567" style="stroke: #000000; stroke-width: 1.55"/>
      </g>
     </g>
     <g id="line2d_200">
      <g>
       <use href="#m64f8e5ad82" x="1490.64487" y="133.9" style="stroke: #000000; stroke-width: 1.55"/>
      </g>
     </g>
    </g>
    <g id="xtick_48">
     <g id="line2d_201">
      <g>
       <use href="#me19a42edf8" x="1500.878785" y="567" style="stroke: #000000; stroke-width: 1.55"/>
      </g>
     </g>
     <g id="line2d_202">
      <g>
       <use href="#m64f8e5ad82" x="1500.878785" y="133.9" style="stroke: #000000; stroke-width: 1.55"/>
      </g>
     </g>
    </g>
    <g id="xtick_49">
     <g id="line2d_203">
      <g>
       <use href="#me19a42edf8" x="1570.259401" y="567" style="stroke: #000000; stroke-width: 1.55"/>
      </g>
     </g>
     <g id="line2d_204">
      <g>
       <use href="#m64f8e5ad82" x="1570.259401" y="133.9" style="stroke: #000000; stroke-width: 1.55"/>
      </g>
     </g>
    </g>
    <g id="xtick_50">
     <g id="line2d_205">
      <g>
       <use href="#me19a42edf8" x="1605.489392" y="567" style="stroke: #000000; stroke-width: 1.55"/>
      </g>
     </g>
     <g id="line2d_206">
      <g>
       <use href="#m64f8e5ad82" x="1605.489392" y="133.9" style="stroke: #000000; stroke-width: 1.55"/>
      </g>
     </g>
    </g>
    <g id="xtick_51">
     <g id="line2d_207">
      <g>
       <use href="#me19a42edf8" x="1630.485469" y="567" style="stroke: #000000; stroke-width: 1.55"/>
      </g>
     </g>
     <g id="line2d_208">
      <g>
       <use href="#m64f8e5ad82" x="1630.485469" y="133.9" style="stroke: #000000; stroke-width: 1.55"/>
      </g>
     </g>
    </g>
    <g id="xtick_52">
     <g id="line2d_209">
      <g>
       <use href="#me19a42edf8" x="1649.873932" y="567" style="stroke: #000000; stroke-width: 1.55"/>
      </g>
     </g>
     <g id="line2d_210">
      <g>
       <use href="#m64f8e5ad82" x="1649.873932" y="133.9" style="stroke: #000000; stroke-width: 1.55"/>
      </g>
     </g>
    </g>
    <g id="xtick_53">
     <g id="line2d_211">
      <g>
       <use href="#me19a42edf8" x="1665.71546" y="567" style="stroke: #000000; stroke-width: 1.55"/>
      </g>
     </g>
     <g id="line2d_212">
      <g>
       <use href="#m64f8e5ad82" x="1665.71546" y="133.9" style="stroke: #000000; stroke-width: 1.55"/>
      </g>
     </g>
    </g>
    <g id="xtick_54">
     <g id="line2d_213">
      <g>
       <use href="#me19a42edf8" x="1679.109281" y="567" style="stroke: #000000; stroke-width: 1.55"/>
      </g>
     </g>
     <g id="line2d_214">
      <g>
       <use href="#m64f8e5ad82" x="1679.109281" y="133.9" style="stroke: #000000; stroke-width: 1.55"/>
      </g>
     </g>
    </g>
    <g id="xtick_55">
     <g id="line2d_215">
      <g>
       <use href="#me19a42edf8" x="1690.711537" y="567" style="stroke: #000000; stroke-width: 1.55"/>
      </g>
     </g>
     <g id="line2d_216">
      <g>
       <use href="#m64f8e5ad82" x="1690.711537" y="133.9" style="stroke: #000000; stroke-width: 1.55"/>
      </g>
     </g>
    </g>
    <g id="xtick_56">
     <g id="line2d_217">
      <g>
       <use href="#me19a42edf8" x="1700.945451" y="567" style="stroke: #000000; stroke-width: 1.55"/>
      </g>
     </g>
     <g id="line2d_218">
      <g>
       <use href="#m64f8e5ad82" x="1700.945451" y="133.9" style="stroke: #000000; stroke-width: 1.55"/>
      </g>
     </g>
    </g>
    <g id="text_21">
     <text style="font-size: 34.444444px; text-anchor: middle" x="1410" y="719.949519" transform="rotate(-0 1410 719.949519)">Apparent Quantum Yield</text>
    </g>
   </g>
   <g id="matplotlib.axis_4">
    <g id="ytick_45">
     <g id="line2d_219">
      <path d="M 1109.9 510.918623 L 1710.1 510.918623 
" clip-path="url(#p70f6478031)" style="fill: none; stroke: #b0b0b0; stroke-width: 1.55; stroke-linecap: square"/>
     </g>
     <g id="line2d_220">
      <g>
       <use href="#m5118e85f27" x="1109.9" y="510.918623" style="stroke: #000000; stroke-width: 2.066667"/>
      </g>
     </g>
     <g id="line2d_221">
      <g>
       <use href="#mf02be981b4" x="1710.1" y="510.918623" style="stroke: #000000; stroke-width: 2.066667"/>
      </g>
     </g>
     <g id="text_22">
      <text style="font-size: 34.444444px; text-anchor: end" x="1097.844444" y="524.004821" transform="rotate(-0 1097.844444 524.004821)">$0.1</text>
     </g>
    </g>
    <g id="ytick_46">
     <g id="line2d_222">
      <path d="M 1109.9 430.684311 L 1710.1 430.684311 
" clip-path="url(#p70f6478031)" style="fill: none; stroke: #b0b0b0; stroke-width: 1.55; stroke-linecap: square"/>
     </g>
     <g id="line2d_223">
      <g>
       <use href="#m5118e85f27" x="1109.9" y="430.684311" style="stroke: #000000; stroke-width: 2.066667"/>
      </g>
     </g>
     <g id="line2d_224">
      <g>
       <use href="#mf02be981b4" x="1710.1" y="430.684311" style="stroke: #000000; stroke-width: 2.066667"/>
      </g>
     </g>
     <g id="text_23">
      <text style="font-size: 34.444444px; text-anchor: end" x="1097.844444" y="443.770509" transform="rotate(-0 1097.844444 443.770509)">$1</text>
     </g>
    </g>
    <g id="ytick_47">
     <g id="line2d_225">
      <path d="M 1109.9 350.45 L 1710.1 350.45 
" clip-path="url(#p70f6478031)" style="fill: none; stroke: #b0b0b0; stroke-width: 1.55; stroke-linecap: square"/>
     </g>
     <g id="line2d_226">
      <g>
       <use href="#m5118e85f27" x="1109.9" y="350.45" style="stroke: #000000; stroke-width: 2.066667"/>
      </g>
     </g>
     <g id="line2d_227">
      <g>
       <use href="#mf02be981b4" x="1710.1" y="350.45" style="stroke: #000000; stroke-width: 2.066667"/>
      </g>
     </g>
     <g id="text_24">
      <text style="font-size: 34.444444px; text-anchor: end" x="1097.844444" y="363.536198" transform="rotate(-0 1097.844444 363.536198)">$10</text>
     </g>
    </g>
    <g id="ytick_48">
     <g id="line2d_228">
      <path d="M 1109.9 270.215689 L 1710.1 270.215689 
" clip-path="url(#p70f6478031)" style="fill: none; stroke: #b0b0b0; stroke-width: 1.55; stroke-linecap: square"/>
     </g>
     <g id="line2d_229">
      <g>
       <use href="#m5118e85f27" x="1109.9" y="270.215689" style="stroke: #000000; stroke-width: 2.066667"/>
      </g>
     </g>
     <g id="line2d_230">
      <g>
       <use href="#mf02be981b4" x="1710.1" y="270.215689" style="stroke: #000000; stroke-width: 2.066667"/>
      </g>
     </g>
     <g id="text_25">
      <text style="font-size: 34.444444px; text-anchor: end" x="1097.844444" y="283.301886" transform="rotate(-0 1097.844444 283.301886)">$100</text>
     </g>
    </g>
    <g id="ytick_49">
     <g id="line2d_231">
      <path d="M 1109.9 189.981377 L 1710.1 189.981377 
" clip-path="url(#p70f6478031)" style="fill: none; stroke: #b0b0b0; stroke-width: 1.55; stroke-linecap: square"/>
     </g>
     <g id="line2d_232">
      <g>
       <use href="#m5118e85f27" x="1109.9" y="189.981377" style="stroke: #000000; stroke-width: 2.066667"/>
      </g>
     </g>
     <g id="line2d_233">
      <g>
       <use href="#mf02be981b4" x="1710.1" y="189.981377" style="stroke: #000000; stroke-width: 2.066667"/>
      </g>
     </g>
     <g id="text_26">
      <text style="font-size: 34.444444px; text-anchor: end" x="1097.844444" y="203.067575" transform="rotate(-0 1097.844444 203.067575)">$1000</text>
     </g>
    </g>
    <g id="ytick_50">
     <g id="line2d_234">
      <g>
       <use href="#mf9ce0bf6b2" x="1109.9" y="567" style="stroke: #000000; stroke-width: 1.55"/>
      </g>
     </g>
     <g id="line2d_235">
      <g>
       <use href="#mf81f3b6706" x="1710.1" y="567" style="stroke: #000000; stroke-width: 1.55"/>
      </g>
     </g>
    </g>
    <g id="ytick_51">
     <g id="line2d_236">
      <g>
       <use href="#mf9ce0bf6b2" x="1109.9" y="552.871439" style="stroke: #000000; stroke-width: 1.55"/>
      </g>
     </g>
     <g id="line2d_237">
      <g>
       <use href="#mf81f3b6706" x="1710.1" y="552.871439" style="stroke: #000000; stroke-width: 1.55"/>
      </g>
     </g>
    </g>
    <g id="ytick_52">
     <g id="line2d_238">
      <g>
       <use href="#mf9ce0bf6b2" x="1109.9" y="542.847066" style="stroke: #000000; stroke-width: 1.55"/>
      </g>
     </g>
     <g id="line2d_239">
      <g>
       <use href="#mf81f3b6706" x="1710.1" y="542.847066" style="stroke: #000000; stroke-width: 1.55"/>
      </g>
     </g>
    </g>
    <g id="ytick_53">
     <g id="line2d_240">
      <g>
       <use href="#mf9ce0bf6b2" x="1109.9" y="535.071557" style="stroke: #000000; stroke-width: 1.55"/>
      </g>
     </g>
     <g id="line2d_241">
      <g>
       <use href="#mf81f3b6706" x="1710.1" y="535.071557" style="stroke: #000000; stroke-width: 1.55"/>
      </g>
     </g>
    </g>
    <g id="ytick_54">
     <g id="line2d_242">
      <g>
       <use href="#mf9ce0bf6b2" x="1109.9" y="528.718505" style="stroke: #000000; stroke-width: 1.55"/>
      </g>
     </g>
     <g id="line2d_243">
      <g>
       <use href="#mf81f3b6706" x="1710.1" y="528.718505" style="stroke: #000000; stroke-width: 1.55"/>
      </g>
     </g>
    </g>
    <g id="ytick_55">
     <g id="line2d_244">
      <g>
       <use href="#mf9ce0bf6b2" x="1109.9" y="523.347075" style="stroke: #000000; stroke-width: 1.55"/>
      </g>
     </g>
     <g id="line2d_245">
      <g>
       <use href="#mf81f3b6706" x="1710.1" y="523.347075" style="stroke: #000000; stroke-width: 1.55"/>
      </g>
     </g>
    </g>
    <g id="ytick_56">
     <g id="line2d_246">
      <g>
       <use href="#mf9ce0bf6b2" x="1109.9" y="518.694131" style="stroke: #000000; stroke-width: 1.55"/>
      </g>
     </g>
     <g id="line2d_247">
      <g>
       <use href="#mf81f3b6706" x="1710.1" y="518.694131" style="stroke: #000000; stroke-width: 1.55"/>
      </g>
     </g>
    </g>
    <g id="ytick_57">
     <g id="line2d_248">
      <g>
       <use href="#mf9ce0bf6b2" x="1109.9" y="514.589944" style="stroke: #000000; stroke-width: 1.55"/>
      </g>
     </g>
     <g id="line2d_249">
      <g>
       <use href="#mf81f3b6706" x="1710.1" y="514.589944" style="stroke: #000000; stroke-width: 1.55"/>
      </g>
     </g>
    </g>
    <g id="ytick_58">
     <g id="line2d_250">
      <g>
       <use href="#mf9ce0bf6b2" x="1109.9" y="486.765689" style="stroke: #000000; stroke-width: 1.55"/>
      </g>
     </g>
     <g id="line2d_251">
      <g>
       <use href="#mf81f3b6706" x="1710.1" y="486.765689" style="stroke: #000000; stroke-width: 1.55"/>
      </g>
     </g>
    </g>
    <g id="ytick_59">
     <g id="line2d_252">
      <g>
       <use href="#mf9ce0bf6b2" x="1109.9" y="472.637128" style="stroke: #000000; stroke-width: 1.55"/>
      </g>
     </g>
     <g id="line2d_253">
      <g>
       <use href="#mf81f3b6706" x="1710.1" y="472.637128" style="stroke: #000000; stroke-width: 1.55"/>
      </g>
     </g>
    </g>
    <g id="ytick_60">
     <g id="line2d_254">
      <g>
       <use href="#mf9ce0bf6b2" x="1109.9" y="462.612754" style="stroke: #000000; stroke-width: 1.55"/>
      </g>
     </g>
     <g id="line2d_255">
      <g>
       <use href="#mf81f3b6706" x="1710.1" y="462.612754" style="stroke: #000000; stroke-width: 1.55"/>
      </g>
     </g>
    </g>
    <g id="ytick_61">
     <g id="line2d_256">
      <g>
       <use href="#mf9ce0bf6b2" x="1109.9" y="454.837246" style="stroke: #000000; stroke-width: 1.55"/>
      </g>
     </g>
     <g id="line2d_257">
      <g>
       <use href="#mf81f3b6706" x="1710.1" y="454.837246" style="stroke: #000000; stroke-width: 1.55"/>
      </g>
     </g>
    </g>
    <g id="ytick_62">
     <g id="line2d_258">
      <g>
       <use href="#mf9ce0bf6b2" x="1109.9" y="448.484193" style="stroke: #000000; stroke-width: 1.55"/>
      </g>
     </g>
     <g id="line2d_259">
      <g>
       <use href="#mf81f3b6706" x="1710.1" y="448.484193" style="stroke: #000000; stroke-width: 1.55"/>
      </g>
     </g>
    </g>
    <g id="ytick_63">
     <g id="line2d_260">
      <g>
       <use href="#mf9ce0bf6b2" x="1109.9" y="443.112764" style="stroke: #000000; stroke-width: 1.55"/>
      </g>
     </g>
     <g id="line2d_261">
      <g>
       <use href="#mf81f3b6706" x="1710.1" y="443.112764" style="stroke: #000000; stroke-width: 1.55"/>
      </g>
     </g>
    </g>
    <g id="ytick_64">
     <g id="line2d_262">
      <g>
       <use href="#mf9ce0bf6b2" x="1109.9" y="438.45982" style="stroke: #000000; stroke-width: 1.55"/>
      </g>
     </g>
     <g id="line2d_263">
      <g>
       <use href="#mf81f3b6706" x="1710.1" y="438.45982" style="stroke: #000000; stroke-width: 1.55"/>
      </g>
     </g>
    </g>
    <g id="ytick_65">
     <g id="line2d_264">
      <g>
       <use href="#mf9ce0bf6b2" x="1109.9" y="434.355632" style="stroke: #000000; stroke-width: 1.55"/>
      </g>
     </g>
     <g id="line2d_265">
      <g>
       <use href="#mf81f3b6706" x="1710.1" y="434.355632" style="stroke: #000000; stroke-width: 1.55"/>
      </g>
     </g>
    </g>
    <g id="ytick_66">
     <g id="line2d_266">
      <g>
       <use href="#mf9ce0bf6b2" x="1109.9" y="406.531377" style="stroke: #000000; stroke-width: 1.55"/>
      </g>
     </g>
     <g id="line2d_267">
      <g>
       <use href="#mf81f3b6706" x="1710.1" y="406.531377" style="stroke: #000000; stroke-width: 1.55"/>
      </g>
     </g>
    </g>
    <g id="ytick_67">
     <g id="line2d_268">
      <g>
       <use href="#mf9ce0bf6b2" x="1109.9" y="392.402816" style="stroke: #000000; stroke-width: 1.55"/>
      </g>
     </g>
     <g id="line2d_269">
      <g>
       <use href="#mf81f3b6706" x="1710.1" y="392.402816" style="stroke: #000000; stroke-width: 1.55"/>
      </g>
     </g>
    </g>
    <g id="ytick_68">
     <g id="line2d_270">
      <g>
       <use href="#mf9ce0bf6b2" x="1109.9" y="382.378443" style="stroke: #000000; stroke-width: 1.55"/>
      </g>
     </g>
     <g id="line2d_271">
      <g>
       <use href="#mf81f3b6706" x="1710.1" y="382.378443" style="stroke: #000000; stroke-width: 1.55"/>
      </g>
     </g>
    </g>
    <g id="ytick_69">
     <g id="line2d_272">
      <g>
       <use href="#mf9ce0bf6b2" x="1109.9" y="374.602934" style="stroke: #000000; stroke-width: 1.55"/>
      </g>
     </g>
     <g id="line2d_273">
      <g>
       <use href="#mf81f3b6706" x="1710.1" y="374.602934" style="stroke: #000000; stroke-width: 1.55"/>
      </g>
     </g>
    </g>
    <g id="ytick_70">
     <g id="line2d_274">
      <g>
       <use href="#mf9ce0bf6b2" x="1109.9" y="368.249882" style="stroke: #000000; stroke-width: 1.55"/>
      </g>
     </g>
     <g id="line2d_275">
      <g>
       <use href="#mf81f3b6706" x="1710.1" y="368.249882" style="stroke: #000000; stroke-width: 1.55"/>
      </g>
     </g>
    </g>
    <g id="ytick_71">
     <g id="line2d_276">
      <g>
       <use href="#mf9ce0bf6b2" x="1109.9" y="362.878452" style="stroke: #000000; stroke-width: 1.55"/>
      </g>
     </g>
     <g id="line2d_277">
      <g>
       <use href="#mf81f3b6706" x="1710.1" y="362.878452" style="stroke: #000000; stroke-width: 1.55"/>
      </g>
     </g>
    </g>
    <g id="ytick_72">
     <g id="line2d_278">
      <g>
       <use href="#mf9ce0bf6b2" x="1109.9" y="358.225508" style="stroke: #000000; stroke-width: 1.55"/>
      </g>
     </g>
     <g id="line2d_279">
      <g>
       <use href="#mf81f3b6706" x="1710.1" y="358.225508" style="stroke: #000000; stroke-width: 1.55"/>
      </g>
     </g>
    </g>
    <g id="ytick_73">
     <g id="line2d_280">
      <g>
       <use href="#mf9ce0bf6b2" x="1109.9" y="354.121321" style="stroke: #000000; stroke-width: 1.55"/>
      </g>
     </g>
     <g id="line2d_281">
      <g>
       <use href="#mf81f3b6706" x="1710.1" y="354.121321" style="stroke: #000000; stroke-width: 1.55"/>
      </g>
     </g>
    </g>
    <g id="ytick_74">
     <g id="line2d_282">
      <g>
       <use href="#mf9ce0bf6b2" x="1109.9" y="326.297066" style="stroke: #000000; stroke-width: 1.55"/>
      </g>
     </g>
     <g id="line2d_283">
      <g>
       <use href="#mf81f3b6706" x="1710.1" y="326.297066" style="stroke: #000000; stroke-width: 1.55"/>
      </g>
     </g>
    </g>
    <g id="ytick_75">
     <g id="line2d_284">
      <g>
       <use href="#mf9ce0bf6b2" x="1109.9" y="312.168505" style="stroke: #000000; stroke-width: 1.55"/>
      </g>
     </g>
     <g id="line2d_285">
      <g>
       <use href="#mf81f3b6706" x="1710.1" y="312.168505" style="stroke: #000000; stroke-width: 1.55"/>
      </g>
     </g>
    </g>
    <g id="ytick_76">
     <g id="line2d_286">
      <g>
       <use href="#mf9ce0bf6b2" x="1109.9" y="302.144131" style="stroke: #000000; stroke-width: 1.55"/>
      </g>
     </g>
     <g id="line2d_287">
      <g>
       <use href="#mf81f3b6706" x="1710.1" y="302.144131" style="stroke: #000000; stroke-width: 1.55"/>
      </g>
     </g>
    </g>
    <g id="ytick_77">
     <g id="line2d_288">
      <g>
       <use href="#mf9ce0bf6b2" x="1109.9" y="294.368623" style="stroke: #000000; stroke-width: 1.55"/>
      </g>
     </g>
     <g id="line2d_289">
      <g>
       <use href="#mf81f3b6706" x="1710.1" y="294.368623" style="stroke: #000000; stroke-width: 1.55"/>
      </g>
     </g>
    </g>
    <g id="ytick_78">
     <g id="line2d_290">
      <g>
       <use href="#mf9ce0bf6b2" x="1109.9" y="288.01557" style="stroke: #000000; stroke-width: 1.55"/>
      </g>
     </g>
     <g id="line2d_291">
      <g>
       <use href="#mf81f3b6706" x="1710.1" y="288.01557" style="stroke: #000000; stroke-width: 1.55"/>
      </g>
     </g>
    </g>
    <g id="ytick_79">
     <g id="line2d_292">
      <g>
       <use href="#mf9ce0bf6b2" x="1109.9" y="282.644141" style="stroke: #000000; stroke-width: 1.55"/>
      </g>
     </g>
     <g id="line2d_293">
      <g>
       <use href="#mf81f3b6706" x="1710.1" y="282.644141" style="stroke: #000000; stroke-width: 1.55"/>
      </g>
     </g>
    </g>
    <g id="ytick_80">
     <g id="line2d_294">
      <g>
       <use href="#mf9ce0bf6b2" x="1109.9" y="277.991197" style="stroke: #000000; stroke-width: 1.55"/>
      </g>
     </g>
     <g id="line2d_295">
      <g>
       <use href="#mf81f3b6706" x="1710.1" y="277.991197" style="stroke: #000000; stroke-width: 1.55"/>
      </g>
     </g>
    </g>
    <g id="ytick_81">
     <g id="line2d_296">
      <g>
       <use href="#mf9ce0bf6b2" x="1109.9" y="273.887009" style="stroke: #000000; stroke-width: 1.55"/>
      </g>
     </g>
     <g id="line2d_297">
      <g>
       <use href="#mf81f3b6706" x="1710.1" y="273.887009" style="stroke: #000000; stroke-width: 1.55"/>
      </g>
     </g>
    </g>
    <g id="ytick_82">
     <g id="line2d_298">
      <g>
       <use href="#mf9ce0bf6b2" x="1109.9" y="246.062754" style="stroke: #000000; stroke-width: 1.55"/>
      </g>
     </g>
     <g id="line2d_299">
      <g>
       <use href="#mf81f3b6706" x="1710.1" y="246.062754" style="stroke: #000000; stroke-width: 1.55"/>
      </g>
     </g>
    </g>
    <g id="ytick_83">
     <g id="line2d_300">
      <g>
       <use href="#mf9ce0bf6b2" x="1109.9" y="231.934193" style="stroke: #000000; stroke-width: 1.55"/>
      </g>
     </g>
     <g id="line2d_301">
      <g>
       <use href="#mf81f3b6706" x="1710.1" y="231.934193" style="stroke: #000000; stroke-width: 1.55"/>
      </g>
     </g>
    </g>
    <g id="ytick_84">
     <g id="line2d_302">
      <g>
       <use href="#mf9ce0bf6b2" x="1109.9" y="221.90982" style="stroke: #000000; stroke-width: 1.55"/>
      </g>
     </g>
     <g id="line2d_303">
      <g>
       <use href="#mf81f3b6706" x="1710.1" y="221.90982" style="stroke: #000000; stroke-width: 1.55"/>
      </g>
     </g>
    </g>
    <g id="ytick_85">
     <g id="line2d_304">
      <g>
       <use href="#mf9ce0bf6b2" x="1109.9" y="214.134311" style="stroke: #000000; stroke-width: 1.55"/>
      </g>
     </g>
     <g id="line2d_305">
      <g>
       <use href="#mf81f3b6706" x="1710.1" y="214.134311" style="stroke: #000000; stroke-width: 1.55"/>
      </g>
     </g>
    </g>
    <g id="ytick_86">
     <g id="line2d_306">
      <g>
       <use href="#mf9ce0bf6b2" x="1109.9" y="207.781259" style="stroke: #000000; stroke-width: 1.55"/>
      </g>
     </g>
     <g id="line2d_307">
      <g>
       <use href="#mf81f3b6706" x="1710.1" y="207.781259" style="stroke: #000000; stroke-width: 1.55"/>
      </g>
     </g>
    </g>
    <g id="ytick_87">
     <g id="line2d_308">
      <g>
       <use href="#mf9ce0bf6b2" x="1109.9" y="202.409829" style="stroke: #000000; stroke-width: 1.55"/>
      </g>
     </g>
     <g id="line2d_309">
      <g>
       <use href="#mf81f3b6706" x="1710.1" y="202.409829" style="stroke: #000000; stroke-width: 1.55"/>
      </g>
     </g>
    </g>
    <g id="ytick_88">
     <g id="line2d_310">
      <g>
       <use href="#mf9ce0bf6b2" x="1109.9" y="197.756885" style="stroke: #000000; stroke-width: 1.55"/>
      </g>
     </g>
     <g id="line2d_311">
      <g>
       <use href="#mf81f3b6706" x="1710.1" y="197.756885" style="stroke: #000000; stroke-width: 1.55"/>
      </g>
     </g>
    </g>
    <g id="ytick_89">
     <g id="line2d_312">
      <g>
       <use href="#mf9ce0bf6b2" x="1109.9" y="193.652698" style="stroke: #000000; stroke-width: 1.55"/>
      </g>
     </g>
     <g id="line2d_313">
      <g>
       <use href="#mf81f3b6706" x="1710.1" y="193.652698" style="stroke: #000000; stroke-width: 1.55"/>
      </g>
     </g>
    </g>
    <g id="ytick_90">
     <g id="line2d_314">
      <g>
       <use href="#mf9ce0bf6b2" x="1109.9" y="165.828443" style="stroke: #000000; stroke-width: 1.55"/>
      </g>
     </g>
     <g id="line2d_315">
      <g>
       <use href="#mf81f3b6706" x="1710.1" y="165.828443" style="stroke: #000000; stroke-width: 1.55"/>
      </g>
     </g>
    </g>
    <g id="ytick_91">
     <g id="line2d_316">
      <g>
       <use href="#mf9ce0bf6b2" x="1109.9" y="151.699882" style="stroke: #000000; stroke-width: 1.55"/>
      </g>
     </g>
     <g id="line2d_317">
      <g>
       <use href="#mf81f3b6706" x="1710.1" y="151.699882" style="stroke: #000000; stroke-width: 1.55"/>
      </g>
     </g>
    </g>
    <g id="ytick_92">
     <g id="line2d_318">
      <g>
       <use href="#mf9ce0bf6b2" x="1109.9" y="141.675508" style="stroke: #000000; stroke-width: 1.55"/>
      </g>
     </g>
     <g id="line2d_319">
      <g>
       <use href="#mf81f3b6706" x="1710.1" y="141.675508" style="stroke: #000000; stroke-width: 1.55"/>
      </g>
     </g>
    </g>
    <g id="ytick_93">
     <g id="line2d_320">
      <g>
       <use href="#mf9ce0bf6b2" x="1109.9" y="133.9" style="stroke: #000000; stroke-width: 1.55"/>
      </g>
     </g>
     <g id="line2d_321">
      <g>
       <use href="#mf81f3b6706" x="1710.1" y="133.9" style="stroke: #000000; stroke-width: 1.55"/>
      </g>
     </g>
    </g>
    <g id="text_27">
     <!-- Cost of N$_2$O Removal (\$/tCO$_2$e) -->
     <g transform="translate(967.8269 619.7444) rotate(-90)">
      <text>
       <tspan x="0" y="-0.171875" style="font-size: 34.444444px">C</tspan>
       <tspan x="24.089355" y="-0.171875" style="font-size: 34.444444px">o</tspan>
       <tspan x="45.197021" y="-0.171875" style="font-size: 34.444444px">s</tspan>
       <tspan x="63.171387" y="-0.171875" style="font-size: 34.444444px">t</tspan>
       <tspan x="76.698486" y="-0.171875" style="font-size: 34.444444px"> </tspan>
       <tspan x="87.665039" y="-0.171875" style="font-size: 34.444444px">o</tspan>
       <tspan x="108.772705" y="-0.171875" style="font-size: 34.444444px">f</tspan>
       <tspan x="120.918457" y="-0.171875" style="font-size: 34.444444px"> </tspan>
       <tspan x="131.88501" y="-0.171875" style="font-size: 34.444444px">N</tspan>
       <tspan x="174.312671" y="-0.171875" style="font-size: 34.444444px">O</tspan>
       <tspan x="201.467944" y="-0.171875" style="font-size: 34.444444px"> </tspan>
       <tspan x="212.434497" y="-0.171875" style="font-size: 34.444444px">R</tspan>
       <tspan x="236.405933" y="-0.171875" style="font-size: 34.444444px">e</tspan>
       <tspan x="257.631519" y="-0.171875" style="font-size: 34.444444px">m</tspan>
       <tspan x="291.238696" y="-0.171875" style="font-size: 34.444444px">o</tspan>
       <tspan x="312.346362" y="-0.171875" style="font-size: 34.444444px">v</tspan>
       <tspan x="332.763354" y="-0.171875" style="font-size: 34.444444px">a</tspan>
       <tspan x="353.904712" y="-0.171875" style="font-size: 34.444444px">l</tspan>
       <tspan x="363.489917" y="-0.171875" style="font-size: 34.444444px"> </tspan>
       <tspan x="374.45647" y="-0.171875" style="font-size: 34.444444px">(</tspan>
       <tspan x="387.916187" y="-0.171875" style="font-size: 34.444444px">$</tspan>
       <tspan x="409.866138" y="-0.171875" style="font-size: 34.444444px">/</tspan>
       <tspan x="421.489673" y="-0.171875" style="font-size: 34.444444px">t</tspan>
       <tspan x="435.016772" y="-0.171875" style="font-size: 34.444444px">C</tspan>
       <tspan x="459.106128" y="-0.171875" style="font-size: 34.444444px">O</tspan>
       <tspan x="502.881445" y="-0.171875" style="font-size: 34.444444px">e</tspan>
       <tspan x="524.107031" y="-0.171875" style="font-size: 34.444444px">)</tspan>
       <tspan x="158.018018" y="5.40625" style="font-size: 24.111111px">2</tspan>
       <tspan x="486.586792" y="5.40625" style="font-size: 24.111111px">2</tspan>
      </text>
     </g>
    </g>
   </g>
   <g id="line2d_322">
    <path d="M 1109.9 270.215689 L 1710.1 270.215689 
" clip-path="url(#p70f6478031)" style="fill: none; stroke-dasharray: 4.477778,7.388333; stroke-dashoffset: 0; stroke: #009688; stroke-width: 4.477778"/>
   </g>
   <g id="patch_10">
    <path d="M 1109.9 567 L 1109.9 133.9 
" style="fill: none; stroke: #000000; stroke-width: 2.066667; stroke-linejoin: miter; stroke-linecap: square"/>
   </g>
   <g id="patch_11">
    <path d="M 1710.1 567 L 1710.1 133.9 
" style="fill: none; stroke: #000000; stroke-width: 2.066667; stroke-linejoin: miter; stroke-linecap: square"/>
   </g>
   <g id="patch_12">
    <path d="M 1109.9 567 L 1710.1 567 
" style="fill: none; stroke: #000000; stroke-width: 2.066667; stroke-linejoin: miter; stroke-linecap: square"/>
   </g>
   <g id="patch_13">
    <path d="M 1109.9 133.9 L 1710.1 133.9 
" style="fill: none; stroke: #000000; stroke-width: 2.066667; stroke-linejoin: miter; stroke-linecap: square"/>
   </g>
   <g id="text_28">
    <g id="patch_14">
     <path d="M 1424.952639 297.216904 L 1626.797084 297.216904 Q 1637.130417 297.216904 1637.130417 286.88357 L 1637.130417 253.547807 Q 1637.130417 243.214473 1626.797084 243.214473 L 1424.952639 243.214473 Q 1414.619306 243.214473 1414.619306 253.547807 L 1414.619306 286.88357 Q 1414.619306 297.216904 1424.952639 297.216904 z
" style="fill: #ffffff"/>
    </g>
    <!-- \$100/tCO$_2$e -->
    <g style="fill: #009688" transform="translate(1424.952639 279.720202)">
     <text>
      <tspan x="0" y="-0.171875" style="font-size: 34.444444px; fill: #009688">$</tspan>
      <tspan x="21.949951" y="-0.171875" style="font-size: 34.444444px; fill: #009688">1</tspan>
      <tspan x="43.899902" y="-0.171875" style="font-size: 34.444444px; fill: #009688">0</tspan>
      <tspan x="65.849854" y="-0.171875" style="font-size: 34.444444px; fill: #009688">0</tspan>
      <tspan x="87.799805" y="-0.171875" style="font-size: 34.444444px; fill: #009688">/</tspan>
      <tspan x="99.42334" y="-0.171875" style="font-size: 34.444444px; fill: #009688">t</tspan>
      <tspan x="112.950439" y="-0.171875" style="font-size: 34.444444px; fill: #009688">C</tspan>
      <tspan x="137.039795" y="-0.171875" style="font-size: 34.444444px; fill: #009688">O</tspan>
      <tspan x="180.815112" y="-0.171875" style="font-size: 34.444444px; fill: #009688">e</tspan>
      <tspan x="164.520459" y="5.40625" style="font-size: 24.111111px; fill: #009688">2</tspan>
     </text>
    </g>
   </g>
   <g id="text_29">
    <text style="font-weight: 700; font-size: 34.444444px; text-anchor: start" x="929.84" y="25.607782" transform="rotate(-0 929.84 25.607782)">(b)</text>
   </g>
   <g id="text_30">
    <!-- Removal of 330 ppb N$_2$O using  -->
    <g transform="translate(1138.0611 75.7867)">
     <text>
      <tspan x="0" y="-0.171875" style="font-size: 34.444444px">R</tspan>
      <tspan x="23.971436" y="-0.171875" style="font-size: 34.444444px">e</tspan>
      <tspan x="45.197021" y="-0.171875" style="font-size: 34.444444px">m</tspan>
      <tspan x="78.804199" y="-0.171875" style="font-size: 34.444444px">o</tspan>
      <tspan x="99.911865" y="-0.171875" style="font-size: 34.444444px">v</tspan>
      <tspan x="120.328857" y="-0.171875" style="font-size: 34.444444px">a</tspan>
      <tspan x="141.470215" y="-0.171875" style="font-size: 34.444444px">l</tspan>
      <tspan x="151.05542" y="-0.171875" style="font-size: 34.444444px"> </tspan>
      <tspan x="162.021973" y="-0.171875" style="font-size: 34.444444px">o</tspan>
      <tspan x="183.129639" y="-0.171875" style="font-size: 34.444444px">f</tspan>
      <tspan x="195.275391" y="-0.171875" style="font-size: 34.444444px"> </tspan>
      <tspan x="206.241943" y="-0.171875" style="font-size: 34.444444px">3</tspan>
      <tspan x="228.191895" y="-0.171875" style="font-size: 34.444444px">3</tspan>
      <tspan x="250.141846" y="-0.171875" style="font-size: 34.444444px">0</tspan>
      <tspan x="272.091797" y="-0.171875" style="font-size: 34.444444px"> </tspan>
      <tspan x="283.05835" y="-0.171875" style="font-size: 34.444444px">p</tspan>
      <tspan x="304.957764" y="-0.171875" style="font-size: 34.444444px">p</tspan>
      <tspan x="326.857178" y="-0.171875" style="font-size: 34.444444px">b</tspan>
      <tspan x="348.756592" y="-0.171875" style="font-size: 34.444444px"> </tspan>
      <tspan x="359.723145" y="-0.171875" style="font-size: 34.444444px">N</tspan>
      <tspan x="402.150806" y="-0.171875" style="font-size: 34.444444px">O</tspan>
      <tspan x="429.306079" y="-0.171875" style="font-size: 34.444444px"> </tspan>
      <tspan x="440.272632" y="-0.171875" style="font-size: 34.444444px">u</tspan>
      <tspan x="462.138354" y="-0.171875" style="font-size: 34.444444px">s</tspan>
      <tspan x="480.11272" y="-0.171875" style="font-size: 34.444444px">i</tspan>
      <tspan x="489.697925" y="-0.171875" style="font-size: 34.444444px">n</tspan>
      <tspan x="511.563647" y="-0.171875" style="font-size: 34.444444px">g</tspan>
      <tspan x="533.463062" y="-0.171875" style="font-size: 34.444444px"> </tspan>
      <tspan x="385.856152" y="5.40625" style="font-size: 24.111111px">2</tspan>
     </text>
    </g>
    <!-- 1$\mu$m Aerosol Particles -->
    <g transform="translate(1222.6222 113.8333)">
     <text>
      <tspan x="0" y="-0.171875" style="font-size: 34.444444px">1</tspan>
      <tspan x="43.899902" y="-0.171875" style="font-size: 34.444444px">m</tspan>
      <tspan x="77.50708" y="-0.171875" style="font-size: 34.444444px"> </tspan>
      <tspan x="88.473633" y="-0.171875" style="font-size: 34.444444px">A</tspan>
      <tspan x="112.074463" y="-0.171875" style="font-size: 34.444444px">e</tspan>
      <tspan x="133.300049" y="-0.171875" style="font-size: 34.444444px">r</tspan>
      <tspan x="147.484131" y="-0.171875" style="font-size: 34.444444px">o</tspan>
      <tspan x="168.591797" y="-0.171875" style="font-size: 34.444444px">s</tspan>
      <tspan x="186.566162" y="-0.171875" style="font-size: 34.444444px">o</tspan>
      <tspan x="207.673828" y="-0.171875" style="font-size: 34.444444px">l</tspan>
      <tspan x="217.259033" y="-0.171875" style="font-size: 34.444444px"> </tspan>
      <tspan x="228.225586" y="-0.171875" style="font-size: 34.444444px">P</tspan>
      <tspan x="249.030029" y="-0.171875" style="font-size: 34.444444px">a</tspan>
      <tspan x="270.171387" y="-0.171875" style="font-size: 34.444444px">r</tspan>
      <tspan x="284.355469" y="-0.171875" style="font-size: 34.444444px">t</tspan>
      <tspan x="297.882568" y="-0.171875" style="font-size: 34.444444px">i</tspan>
      <tspan x="307.467773" y="-0.171875" style="font-size: 34.444444px">c</tspan>
      <tspan x="326.436035" y="-0.171875" style="font-size: 34.444444px">l</tspan>
      <tspan x="336.02124" y="-0.171875" style="font-size: 34.444444px">e</tspan>
      <tspan x="357.246826" y="-0.171875" style="font-size: 34.444444px">s</tspan>
      <tspan x="21.949951" y="-0.171875" style="font-style: oblique; font-size: 34.444444px">μ</tspan>
     </text>
    </g>
   </g>
   <g id="line2d_323">
    <path d="M 1109.9 187.62379 L 1122.14898 192.536095 L 1134.397959 197.448399 L 1146.646939 202.360704 L 1158.895918 207.273009 L 1171.144898 212.185314 L 1183.393878 217.097619 L 1195.642857 222.009923 L 1207.891837 226.922228 L 1220.140816 231.834533 L 1232.389796 236.746838 L 1244.638776 241.659142 L 1256.887755 246.571447 L 1269.136735 251.483752 L 1281.385714 256.396057 L 1293.634694 261.308362 L 1305.883673 266.220666 L 1318.132653 271.132971 L 1330.381633 276.045276 L 1342.630612 280.957581 L 1354.879592 285.869886 L 1367.128571 290.78219 L 1379.377551 295.694495 L 1391.626531 300.6068 L 1403.87551 305.519105 L 1416.12449 310.431409 L 1428.373469 315.343714 L 1440.622449 320.256019 L 1452.871429 325.168324 L 1465.120408 330.080629 L 1477.369388 334.992933 L 1489.618367 339.905238 L 1501.867347 344.817543 L 1514.116327 349.729848 L 1526.365306 354.642153 L 1538.614286 359.554457 L 1550.863265 364.466762 L 1563.112245 369.379067 L 1575.361224 374.291372 L 1587.610204 379.203676 L 1599.859184 384.115981 L 1612.108163 389.028286 L 1624.357143 393.940591 L 1636.606122 398.852896 L 1648.855102 403.7652 L 1661.104082 408.677505 L 1673.353061 413.58981 L 1685.602041 418.502115 L 1697.85102 423.41442 L 1710.1 428.326724 
" clip-path="url(#p70f6478031)" style="fill: none; stroke: #0c3cff; stroke-width: 4.477778; stroke-linecap: square"/>
   </g>
   <g id="line2d_324">
    <path d="M 1109.9 220.528048 L 1122.14898 225.440352 L 1134.397959 230.352657 L 1146.646939 235.264962 L 1158.895918 240.177267 L 1171.144898 245.089572 L 1183.393878 250.001876 L 1195.642857 254.914181 L 1207.891837 259.826486 L 1220.140816 264.738791 L 1232.389796 269.651095 L 1244.638776 274.5634 L 1256.887755 279.475705 L 1269.136735 284.38801 L 1281.385714 289.300315 L 1293.634694 294.212619 L 1305.883673 299.124924 L 1318.132653 304.037229 L 1330.381633 308.949534 L 1342.630612 313.861839 L 1354.879592 318.774143 L 1367.128571 323.686448 L 1379.377551 328.598753 L 1391.626531 333.511058 L 1403.87551 338.423362 L 1416.12449 343.335667 L 1428.373469 348.247972 L 1440.622449 353.160277 L 1452.871429 358.072582 L 1465.120408 362.984886 L 1477.369388 367.897191 L 1489.618367 372.809496 L 1501.867347 377.721801 L 1514.116327 382.634106 L 1526.365306 387.54641 L 1538.614286 392.458715 L 1550.863265 397.37102 L 1563.112245 402.283325 L 1575.361224 407.195629 L 1587.610204 412.107934 L 1599.859184 417.020239 L 1612.108163 421.932544 L 1624.357143 426.844849 L 1636.606122 431.757153 L 1648.855102 436.669458 L 1661.104082 441.581763 L 1673.353061 446.494068 L 1685.602041 451.406372 L 1697.85102 456.318677 L 1710.1 461.230982 
" clip-path="url(#p70f6478031)" style="fill: none; stroke-dasharray: 16.567778,7.164444; stroke-dashoffset: 0; stroke: #e3061b; stroke-width: 4.477778"/>
   </g>
   <g id="legend_2">
    <g id="patch_15">
     <path d="M 1287.505417 236.837222 L 1690.811111 236.837222 Q 1696.322222 236.837222 1696.322222 231.326111 L 1696.322222 153.188889 Q 1696.322222 147.677778 1690.811111 147.677778 L 1287.505417 147.677778 Q 1281.994306 147.677778 1281.994306 153.188889 L 1281.994306 231.326111 Q 1281.994306 236.837222 1287.505417 236.837222 z
" style="fill: #ffffff; stroke: #cccccc; stroke-width: 3.444444; stroke-linejoin: miter"/>
    </g>
    <g id="line2d_325">
     <path d="M 1293.016528 169.993472 L 1320.572083 169.993472 L 1348.127639 169.993472 
" style="fill: none; stroke: #0c3cff; stroke-width: 4.477778; stroke-linecap: square"/>
    </g>
    <g id="text_31">
     <text style="font-size: 27.555556px; text-anchor: start" x="1369.6721" y="180.3379" transform="rotate(-0 1369.6721 180.3379)">Lower Tropo. (&lt;1.5km)</text>
    </g>
    <g id="line2d_326">
     <path d="M 1293.016528 210.439861 L 1320.572083 210.439861 L 1348.127639 210.439861 
" style="fill: none; stroke-dasharray: 16.567778,7.164444; stroke-dashoffset: 0; stroke: #e3061b; stroke-width: 4.477778"/>
    </g>
    <g id="text_32">
     <text style="font-size: 27.555556px; text-anchor: start" x="1369.6721" y="220.7843" transform="rotate(-0 1369.6721 220.7843)">Upper Tropo. (&gt;1.5km)</text>
    </g>
   </g>
  </g>
  <g id="axes_3">
   <g id="patch_16">
    <path d="M 618.1 1358.1 L 1261.05 1358.1 L 1261.05 925.74 L 618.1 925.74 z
" style="fill: #ffffff"/>
   </g>
   <g id="matplotlib.axis_5">
    <g id="xtick_57">
     <g id="line2d_327">
      <path d="M 618.1 1358.1 L 618.1 925.74 
" clip-path="url(#p76f1e4a33b)" style="fill: none; stroke: #b0b0b0; stroke-width: 1.55; stroke-linecap: square"/>
     </g>
     <g id="line2d_328">
      <g>
       <use href="#m36705e40bf" x="618.1" y="1358.1" style="stroke: #000000; stroke-width: 2.066667"/>
      </g>
     </g>
     <g id="line2d_329">
      <g>
       <use href="#me6bb0235ae" x="618.1" y="925.74" style="stroke: #000000; stroke-width: 2.066667"/>
      </g>
     </g>
     <g id="text_33">
      <text style="font-size: 34.444444px" transform="translate(627.604514 1424.932986) rotate(-90)">0.1</text>
     </g>
    </g>
    <g id="xtick_58">
     <g id="line2d_330">
      <path d="M 870.825159 1358.1 L 870.825159 925.74 
" clip-path="url(#p76f1e4a33b)" style="fill: none; stroke: #b0b0b0; stroke-width: 1.55; stroke-linecap: square"/>
     </g>
     <g id="line2d_331">
      <g>
       <use href="#m36705e40bf" x="870.825159" y="1358.1" style="stroke: #000000; stroke-width: 2.066667"/>
      </g>
     </g>
     <g id="line2d_332">
      <g>
       <use href="#me6bb0235ae" x="870.825159" y="925.74" style="stroke: #000000; stroke-width: 2.066667"/>
      </g>
     </g>
     <g id="text_34">
      <text style="font-size: 34.444444px" transform="translate(880.329672 1392.070833) rotate(-90)">1</text>
     </g>
    </g>
    <g id="xtick_59">
     <g id="line2d_333">
      <path d="M 1123.550317 1358.1 L 1123.550317 925.74 
" clip-path="url(#p76f1e4a33b)" style="fill: none; stroke: #b0b0b0; stroke-width: 1.55; stroke-linecap: square"/>
     </g>
     <g id="line2d_334">
      <g>
       <use href="#m36705e40bf" x="1123.550317" y="1358.1" style="stroke: #000000; stroke-width: 2.066667"/>
      </g>
     </g>
     <g id="line2d_335">
      <g>
       <use href="#me6bb0235ae" x="1123.550317" y="925.74" style="stroke: #000000; stroke-width: 2.066667"/>
      </g>
     </g>
     <g id="text_35">
      <text style="font-size: 34.444444px" transform="translate(1133.054831 1413.986111) rotate(-90)">10</text>
     </g>
    </g>
    <g id="xtick_60">
     <g id="line2d_336">
      <g>
       <use href="#me19a42edf8" x="694.177853" y="1358.1" style="stroke: #000000; stroke-width: 1.55"/>
      </g>
     </g>
     <g id="line2d_337">
      <g>
       <use href="#m64f8e5ad82" x="694.177853" y="925.74" style="stroke: #000000; stroke-width: 1.55"/>
      </g>
     </g>
     <g id="text_36">
      <text style="font-size: 24.8px" transform="translate(701.021103 1409.250861) rotate(-90)">0.2</text>
     </g>
    </g>
    <g id="xtick_61">
     <g id="line2d_338">
      <g>
       <use href="#me19a42edf8" x="738.680545" y="1358.1" style="stroke: #000000; stroke-width: 1.55"/>
      </g>
     </g>
     <g id="line2d_339">
      <g>
       <use href="#m64f8e5ad82" x="738.680545" y="925.74" style="stroke: #000000; stroke-width: 1.55"/>
      </g>
     </g>
    </g>
    <g id="xtick_62">
     <g id="line2d_340">
      <g>
       <use href="#me19a42edf8" x="770.255707" y="1358.1" style="stroke: #000000; stroke-width: 1.55"/>
      </g>
     </g>
     <g id="line2d_341">
      <g>
       <use href="#m64f8e5ad82" x="770.255707" y="925.74" style="stroke: #000000; stroke-width: 1.55"/>
      </g>
     </g>
     <g id="text_37">
      <text style="font-size: 24.8px" transform="translate(777.098957 1409.250861) rotate(-90)">0.4</text>
     </g>
    </g>
    <g id="xtick_63">
     <g id="line2d_342">
      <g>
       <use href="#me19a42edf8" x="794.747305" y="1358.1" style="stroke: #000000; stroke-width: 1.55"/>
      </g>
     </g>
     <g id="line2d_343">
      <g>
       <use href="#m64f8e5ad82" x="794.747305" y="925.74" style="stroke: #000000; stroke-width: 1.55"/>
      </g>
     </g>
    </g>
    <g id="xtick_64">
     <g id="line2d_344">
      <g>
       <use href="#me19a42edf8" x="814.758398" y="1358.1" style="stroke: #000000; stroke-width: 1.55"/>
      </g>
     </g>
     <g id="line2d_345">
      <g>
       <use href="#m64f8e5ad82" x="814.758398" y="925.74" style="stroke: #000000; stroke-width: 1.55"/>
      </g>
     </g>
     <g id="text_38">
      <text style="font-size: 24.8px" transform="translate(821.601648 1409.250861) rotate(-90)">0.6</text>
     </g>
    </g>
    <g id="xtick_65">
     <g id="line2d_346">
      <g>
       <use href="#me19a42edf8" x="831.677536" y="1358.1" style="stroke: #000000; stroke-width: 1.55"/>
      </g>
     </g>
     <g id="line2d_347">
      <g>
       <use href="#m64f8e5ad82" x="831.677536" y="925.74" style="stroke: #000000; stroke-width: 1.55"/>
      </g>
     </g>
    </g>
    <g id="xtick_66">
     <g id="line2d_348">
      <g>
       <use href="#me19a42edf8" x="846.33356" y="1358.1" style="stroke: #000000; stroke-width: 1.55"/>
      </g>
     </g>
     <g id="line2d_349">
      <g>
       <use href="#m64f8e5ad82" x="846.33356" y="925.74" style="stroke: #000000; stroke-width: 1.55"/>
      </g>
     </g>
    </g>
    <g id="xtick_67">
     <g id="line2d_350">
      <g>
       <use href="#me19a42edf8" x="859.26109" y="1358.1" style="stroke: #000000; stroke-width: 1.55"/>
      </g>
     </g>
     <g id="line2d_351">
      <g>
       <use href="#m64f8e5ad82" x="859.26109" y="925.74" style="stroke: #000000; stroke-width: 1.55"/>
      </g>
     </g>
    </g>
    <g id="xtick_68">
     <g id="line2d_352">
      <g>
       <use href="#me19a42edf8" x="946.903012" y="1358.1" style="stroke: #000000; stroke-width: 1.55"/>
      </g>
     </g>
     <g id="line2d_353">
      <g>
       <use href="#m64f8e5ad82" x="946.903012" y="925.74" style="stroke: #000000; stroke-width: 1.55"/>
      </g>
     </g>
     <g id="text_39">
      <text style="font-size: 24.8px" transform="translate(953.746262 1385.590111) rotate(-90)">2</text>
     </g>
    </g>
    <g id="xtick_69">
     <g id="line2d_354">
      <g>
       <use href="#me19a42edf8" x="991.405703" y="1358.1" style="stroke: #000000; stroke-width: 1.55"/>
      </g>
     </g>
     <g id="line2d_355">
      <g>
       <use href="#m64f8e5ad82" x="991.405703" y="925.74" style="stroke: #000000; stroke-width: 1.55"/>
      </g>
     </g>
    </g>
    <g id="xtick_70">
     <g id="line2d_356">
      <g>
       <use href="#me19a42edf8" x="1022.980865" y="1358.1" style="stroke: #000000; stroke-width: 1.55"/>
      </g>
     </g>
     <g id="line2d_357">
      <g>
       <use href="#m64f8e5ad82" x="1022.980865" y="925.74" style="stroke: #000000; stroke-width: 1.55"/>
      </g>
     </g>
     <g id="text_40">
      <text style="font-size: 24.8px" transform="translate(1029.824115 1385.590111) rotate(-90)">4</text>
     </g>
    </g>
    <g id="xtick_71">
     <g id="line2d_358">
      <g>
       <use href="#me19a42edf8" x="1047.472464" y="1358.1" style="stroke: #000000; stroke-width: 1.55"/>
      </g>
     </g>
     <g id="line2d_359">
      <g>
       <use href="#m64f8e5ad82" x="1047.472464" y="925.74" style="stroke: #000000; stroke-width: 1.55"/>
      </g>
     </g>
    </g>
    <g id="xtick_72">
     <g id="line2d_360">
      <g>
       <use href="#me19a42edf8" x="1067.483557" y="1358.1" style="stroke: #000000; stroke-width: 1.55"/>
      </g>
     </g>
     <g id="line2d_361">
      <g>
       <use href="#m64f8e5ad82" x="1067.483557" y="925.74" style="stroke: #000000; stroke-width: 1.55"/>
      </g>
     </g>
     <g id="text_41">
      <text style="font-size: 24.8px" transform="translate(1074.326807 1385.590111) rotate(-90)">6</text>
     </g>
    </g>
    <g id="xtick_73">
     <g id="line2d_362">
      <g>
       <use href="#me19a42edf8" x="1084.402695" y="1358.1" style="stroke: #000000; stroke-width: 1.55"/>
      </g>
     </g>
     <g id="line2d_363">
      <g>
       <use href="#m64f8e5ad82" x="1084.402695" y="925.74" style="stroke: #000000; stroke-width: 1.55"/>
      </g>
     </g>
    </g>
    <g id="xtick_74">
     <g id="line2d_364">
      <g>
       <use href="#me19a42edf8" x="1099.058719" y="1358.1" style="stroke: #000000; stroke-width: 1.55"/>
      </g>
     </g>
     <g id="line2d_365">
      <g>
       <use href="#m64f8e5ad82" x="1099.058719" y="925.74" style="stroke: #000000; stroke-width: 1.55"/>
      </g>
     </g>
    </g>
    <g id="xtick_75">
     <g id="line2d_366">
      <g>
       <use href="#me19a42edf8" x="1111.986248" y="1358.1" style="stroke: #000000; stroke-width: 1.55"/>
      </g>
     </g>
     <g id="line2d_367">
      <g>
       <use href="#m64f8e5ad82" x="1111.986248" y="925.74" style="stroke: #000000; stroke-width: 1.55"/>
      </g>
     </g>
    </g>
    <g id="xtick_76">
     <g id="line2d_368">
      <g>
       <use href="#me19a42edf8" x="1199.628171" y="1358.1" style="stroke: #000000; stroke-width: 1.55"/>
      </g>
     </g>
     <g id="line2d_369">
      <g>
       <use href="#m64f8e5ad82" x="1199.628171" y="925.74" style="stroke: #000000; stroke-width: 1.55"/>
      </g>
     </g>
     <g id="text_42">
      <text style="font-size: 24.8px" transform="translate(1206.471421 1401.369111) rotate(-90)">20</text>
     </g>
    </g>
    <g id="xtick_77">
     <g id="line2d_370">
      <g>
       <use href="#me19a42edf8" x="1244.130862" y="1358.1" style="stroke: #000000; stroke-width: 1.55"/>
      </g>
     </g>
     <g id="line2d_371">
      <g>
       <use href="#m64f8e5ad82" x="1244.130862" y="925.74" style="stroke: #000000; stroke-width: 1.55"/>
      </g>
     </g>
    </g>
    <g id="text_43">
     <!-- Particle Diameter ($\mu$m) -->
     <g transform="translate(742.552778 1464.888542)">
      <text>
       <tspan x="0" y="-0.171875" style="font-size: 34.444444px">P</tspan>
       <tspan x="20.804443" y="-0.171875" style="font-size: 34.444444px">a</tspan>
       <tspan x="41.945801" y="-0.171875" style="font-size: 34.444444px">r</tspan>
       <tspan x="56.129883" y="-0.171875" style="font-size: 34.444444px">t</tspan>
       <tspan x="69.656982" y="-0.171875" style="font-size: 34.444444px">i</tspan>
       <tspan x="79.242188" y="-0.171875" style="font-size: 34.444444px">c</tspan>
       <tspan x="98.210449" y="-0.171875" style="font-size: 34.444444px">l</tspan>
       <tspan x="107.795654" y="-0.171875" style="font-size: 34.444444px">e</tspan>
       <tspan x="129.02124" y="-0.171875" style="font-size: 34.444444px"> </tspan>
       <tspan x="139.987793" y="-0.171875" style="font-size: 34.444444px">D</tspan>
       <tspan x="166.553467" y="-0.171875" style="font-size: 34.444444px">i</tspan>
       <tspan x="176.138672" y="-0.171875" style="font-size: 34.444444px">a</tspan>
       <tspan x="197.280029" y="-0.171875" style="font-size: 34.444444px">m</tspan>
       <tspan x="230.887207" y="-0.171875" style="font-size: 34.444444px">e</tspan>
       <tspan x="252.112793" y="-0.171875" style="font-size: 34.444444px">t</tspan>
       <tspan x="265.639893" y="-0.171875" style="font-size: 34.444444px">e</tspan>
       <tspan x="286.865479" y="-0.171875" style="font-size: 34.444444px">r</tspan>
       <tspan x="301.049561" y="-0.171875" style="font-size: 34.444444px"> </tspan>
       <tspan x="312.016113" y="-0.171875" style="font-size: 34.444444px">(</tspan>
       <tspan x="347.425781" y="-0.171875" style="font-size: 34.444444px">m</tspan>
       <tspan x="381.032959" y="-0.171875" style="font-size: 34.444444px">)</tspan>
       <tspan x="325.47583" y="-0.171875" style="font-style: oblique; font-size: 34.444444px">μ</tspan>
      </text>
     </g>
    </g>
   </g>
   <g id="matplotlib.axis_6">
    <g id="ytick_94">
     <g id="line2d_372">
      <path d="M 618.1 1358.1 L 1261.05 1358.1 
" clip-path="url(#p76f1e4a33b)" style="fill: none; stroke: #b0b0b0; stroke-width: 1.55; stroke-linecap: square"/>
     </g>
     <g id="line2d_373">
      <g>
       <use href="#m5118e85f27" x="618.1" y="1358.1" style="stroke: #000000; stroke-width: 2.066667"/>
      </g>
     </g>
     <g id="line2d_374">
      <g>
       <use href="#mf02be981b4" x="1261.05" y="1358.1" style="stroke: #000000; stroke-width: 2.066667"/>
      </g>
     </g>
     <g id="text_44">
      <text style="font-size: 34.444444px; text-anchor: end" x="606.044444" y="1371.186198" transform="rotate(-0 606.044444 1371.186198)">$1</text>
     </g>
    </g>
    <g id="ytick_95">
     <g id="line2d_375">
      <path d="M 618.1 1241.213407 L 1261.05 1241.213407 
" clip-path="url(#p76f1e4a33b)" style="fill: none; stroke: #b0b0b0; stroke-width: 1.55; stroke-linecap: square"/>
     </g>
     <g id="line2d_376">
      <g>
       <use href="#m5118e85f27" x="618.1" y="1241.213407" style="stroke: #000000; stroke-width: 2.066667"/>
      </g>
     </g>
     <g id="line2d_377">
      <g>
       <use href="#mf02be981b4" x="1261.05" y="1241.213407" style="stroke: #000000; stroke-width: 2.066667"/>
      </g>
     </g>
     <g id="text_45">
      <text style="font-size: 34.444444px; text-anchor: end" x="606.044444" y="1254.299605" transform="rotate(-0 606.044444 1254.299605)">$10</text>
     </g>
    </g>
    <g id="ytick_96">
     <g id="line2d_378">
      <path d="M 618.1 1124.326815 L 1261.05 1124.326815 
" clip-path="url(#p76f1e4a33b)" style="fill: none; stroke: #b0b0b0; stroke-width: 1.55; stroke-linecap: square"/>
     </g>
     <g id="line2d_379">
      <g>
       <use href="#m5118e85f27" x="618.1" y="1124.326815" style="stroke: #000000; stroke-width: 2.066667"/>
      </g>
     </g>
     <g id="line2d_380">
      <g>
       <use href="#mf02be981b4" x="1261.05" y="1124.326815" style="stroke: #000000; stroke-width: 2.066667"/>
      </g>
     </g>
     <g id="text_46">
      <text style="font-size: 34.444444px; text-anchor: end" x="606.044444" y="1137.413013" transform="rotate(-0 606.044444 1137.413013)">$100</text>
     </g>
    </g>
    <g id="ytick_97">
     <g id="line2d_381">
      <path d="M 618.1 1007.440222 L 1261.05 1007.440222 
" clip-path="url(#p76f1e4a33b)" style="fill: none; stroke: #b0b0b0; stroke-width: 1.55; stroke-linecap: square"/>
     </g>
     <g id="line2d_382">
      <g>
       <use href="#m5118e85f27" x="618.1" y="1007.440222" style="stroke: #000000; stroke-width: 2.066667"/>
      </g>
     </g>
     <g id="line2d_383">
      <g>
       <use href="#mf02be981b4" x="1261.05" y="1007.440222" style="stroke: #000000; stroke-width: 2.066667"/>
      </g>
     </g>
     <g id="text_47">
      <text style="font-size: 34.444444px; text-anchor: end" x="606.044444" y="1020.52642" transform="rotate(-0 606.044444 1020.52642)">$1000</text>
     </g>
    </g>
    <g id="ytick_98">
     <g id="line2d_384">
      <g>
       <use href="#mf9ce0bf6b2" x="618.1" y="1322.91363" style="stroke: #000000; stroke-width: 1.55"/>
      </g>
     </g>
     <g id="line2d_385">
      <g>
       <use href="#mf81f3b6706" x="1261.05" y="1322.91363" style="stroke: #000000; stroke-width: 1.55"/>
      </g>
     </g>
    </g>
    <g id="ytick_99">
     <g id="line2d_386">
      <g>
       <use href="#mf9ce0bf6b2" x="618.1" y="1302.330922" style="stroke: #000000; stroke-width: 1.55"/>
      </g>
     </g>
     <g id="line2d_387">
      <g>
       <use href="#mf81f3b6706" x="1261.05" y="1302.330922" style="stroke: #000000; stroke-width: 1.55"/>
      </g>
     </g>
    </g>
    <g id="ytick_100">
     <g id="line2d_388">
      <g>
       <use href="#mf9ce0bf6b2" x="618.1" y="1287.727259" style="stroke: #000000; stroke-width: 1.55"/>
      </g>
     </g>
     <g id="line2d_389">
      <g>
       <use href="#mf81f3b6706" x="1261.05" y="1287.727259" style="stroke: #000000; stroke-width: 1.55"/>
      </g>
     </g>
    </g>
    <g id="ytick_101">
     <g id="line2d_390">
      <g>
       <use href="#mf9ce0bf6b2" x="618.1" y="1276.399778" style="stroke: #000000; stroke-width: 1.55"/>
      </g>
     </g>
     <g id="line2d_391">
      <g>
       <use href="#mf81f3b6706" x="1261.05" y="1276.399778" style="stroke: #000000; stroke-width: 1.55"/>
      </g>
     </g>
    </g>
    <g id="ytick_102">
     <g id="line2d_392">
      <g>
       <use href="#mf9ce0bf6b2" x="618.1" y="1267.144552" style="stroke: #000000; stroke-width: 1.55"/>
      </g>
     </g>
     <g id="line2d_393">
      <g>
       <use href="#mf81f3b6706" x="1261.05" y="1267.144552" style="stroke: #000000; stroke-width: 1.55"/>
      </g>
     </g>
    </g>
    <g id="ytick_103">
     <g id="line2d_394">
      <g>
       <use href="#mf9ce0bf6b2" x="618.1" y="1259.31937" style="stroke: #000000; stroke-width: 1.55"/>
      </g>
     </g>
     <g id="line2d_395">
      <g>
       <use href="#mf81f3b6706" x="1261.05" y="1259.31937" style="stroke: #000000; stroke-width: 1.55"/>
      </g>
     </g>
    </g>
    <g id="ytick_104">
     <g id="line2d_396">
      <g>
       <use href="#mf9ce0bf6b2" x="618.1" y="1252.540889" style="stroke: #000000; stroke-width: 1.55"/>
      </g>
     </g>
     <g id="line2d_397">
      <g>
       <use href="#mf81f3b6706" x="1261.05" y="1252.540889" style="stroke: #000000; stroke-width: 1.55"/>
      </g>
     </g>
    </g>
    <g id="ytick_105">
     <g id="line2d_398">
      <g>
       <use href="#mf9ce0bf6b2" x="618.1" y="1246.561845" style="stroke: #000000; stroke-width: 1.55"/>
      </g>
     </g>
     <g id="line2d_399">
      <g>
       <use href="#mf81f3b6706" x="1261.05" y="1246.561845" style="stroke: #000000; stroke-width: 1.55"/>
      </g>
     </g>
    </g>
    <g id="ytick_106">
     <g id="line2d_400">
      <g>
       <use href="#mf9ce0bf6b2" x="618.1" y="1206.027037" style="stroke: #000000; stroke-width: 1.55"/>
      </g>
     </g>
     <g id="line2d_401">
      <g>
       <use href="#mf81f3b6706" x="1261.05" y="1206.027037" style="stroke: #000000; stroke-width: 1.55"/>
      </g>
     </g>
    </g>
    <g id="ytick_107">
     <g id="line2d_402">
      <g>
       <use href="#mf9ce0bf6b2" x="618.1" y="1185.44433" style="stroke: #000000; stroke-width: 1.55"/>
      </g>
     </g>
     <g id="line2d_403">
      <g>
       <use href="#mf81f3b6706" x="1261.05" y="1185.44433" style="stroke: #000000; stroke-width: 1.55"/>
      </g>
     </g>
    </g>
    <g id="ytick_108">
     <g id="line2d_404">
      <g>
       <use href="#mf9ce0bf6b2" x="618.1" y="1170.840666" style="stroke: #000000; stroke-width: 1.55"/>
      </g>
     </g>
     <g id="line2d_405">
      <g>
       <use href="#mf81f3b6706" x="1261.05" y="1170.840666" style="stroke: #000000; stroke-width: 1.55"/>
      </g>
     </g>
    </g>
    <g id="ytick_109">
     <g id="line2d_406">
      <g>
       <use href="#mf9ce0bf6b2" x="618.1" y="1159.513185" style="stroke: #000000; stroke-width: 1.55"/>
      </g>
     </g>
     <g id="line2d_407">
      <g>
       <use href="#mf81f3b6706" x="1261.05" y="1159.513185" style="stroke: #000000; stroke-width: 1.55"/>
      </g>
     </g>
    </g>
    <g id="ytick_110">
     <g id="line2d_408">
      <g>
       <use href="#mf9ce0bf6b2" x="618.1" y="1150.257959" style="stroke: #000000; stroke-width: 1.55"/>
      </g>
     </g>
     <g id="line2d_409">
      <g>
       <use href="#mf81f3b6706" x="1261.05" y="1150.257959" style="stroke: #000000; stroke-width: 1.55"/>
      </g>
     </g>
    </g>
    <g id="ytick_111">
     <g id="line2d_410">
      <g>
       <use href="#mf9ce0bf6b2" x="618.1" y="1142.432777" style="stroke: #000000; stroke-width: 1.55"/>
      </g>
     </g>
     <g id="line2d_411">
      <g>
       <use href="#mf81f3b6706" x="1261.05" y="1142.432777" style="stroke: #000000; stroke-width: 1.55"/>
      </g>
     </g>
    </g>
    <g id="ytick_112">
     <g id="line2d_412">
      <g>
       <use href="#mf9ce0bf6b2" x="618.1" y="1135.654296" style="stroke: #000000; stroke-width: 1.55"/>
      </g>
     </g>
     <g id="line2d_413">
      <g>
       <use href="#mf81f3b6706" x="1261.05" y="1135.654296" style="stroke: #000000; stroke-width: 1.55"/>
      </g>
     </g>
    </g>
    <g id="ytick_113">
     <g id="line2d_414">
      <g>
       <use href="#mf9ce0bf6b2" x="618.1" y="1129.675252" style="stroke: #000000; stroke-width: 1.55"/>
      </g>
     </g>
     <g id="line2d_415">
      <g>
       <use href="#mf81f3b6706" x="1261.05" y="1129.675252" style="stroke: #000000; stroke-width: 1.55"/>
      </g>
     </g>
    </g>
    <g id="ytick_114">
     <g id="line2d_416">
      <g>
       <use href="#mf9ce0bf6b2" x="618.1" y="1089.140444" style="stroke: #000000; stroke-width: 1.55"/>
      </g>
     </g>
     <g id="line2d_417">
      <g>
       <use href="#mf81f3b6706" x="1261.05" y="1089.140444" style="stroke: #000000; stroke-width: 1.55"/>
      </g>
     </g>
    </g>
    <g id="ytick_115">
     <g id="line2d_418">
      <g>
       <use href="#mf9ce0bf6b2" x="618.1" y="1068.557737" style="stroke: #000000; stroke-width: 1.55"/>
      </g>
     </g>
     <g id="line2d_419">
      <g>
       <use href="#mf81f3b6706" x="1261.05" y="1068.557737" style="stroke: #000000; stroke-width: 1.55"/>
      </g>
     </g>
    </g>
    <g id="ytick_116">
     <g id="line2d_420">
      <g>
       <use href="#mf9ce0bf6b2" x="618.1" y="1053.954074" style="stroke: #000000; stroke-width: 1.55"/>
      </g>
     </g>
     <g id="line2d_421">
      <g>
       <use href="#mf81f3b6706" x="1261.05" y="1053.954074" style="stroke: #000000; stroke-width: 1.55"/>
      </g>
     </g>
    </g>
    <g id="ytick_117">
     <g id="line2d_422">
      <g>
       <use href="#mf9ce0bf6b2" x="618.1" y="1042.626593" style="stroke: #000000; stroke-width: 1.55"/>
      </g>
     </g>
     <g id="line2d_423">
      <g>
       <use href="#mf81f3b6706" x="1261.05" y="1042.626593" style="stroke: #000000; stroke-width: 1.55"/>
      </g>
     </g>
    </g>
    <g id="ytick_118">
     <g id="line2d_424">
      <g>
       <use href="#mf9ce0bf6b2" x="618.1" y="1033.371367" style="stroke: #000000; stroke-width: 1.55"/>
      </g>
     </g>
     <g id="line2d_425">
      <g>
       <use href="#mf81f3b6706" x="1261.05" y="1033.371367" style="stroke: #000000; stroke-width: 1.55"/>
      </g>
     </g>
    </g>
    <g id="ytick_119">
     <g id="line2d_426">
      <g>
       <use href="#mf9ce0bf6b2" x="618.1" y="1025.546184" style="stroke: #000000; stroke-width: 1.55"/>
      </g>
     </g>
     <g id="line2d_427">
      <g>
       <use href="#mf81f3b6706" x="1261.05" y="1025.546184" style="stroke: #000000; stroke-width: 1.55"/>
      </g>
     </g>
    </g>
    <g id="ytick_120">
     <g id="line2d_428">
      <g>
       <use href="#mf9ce0bf6b2" x="618.1" y="1018.767703" style="stroke: #000000; stroke-width: 1.55"/>
      </g>
     </g>
     <g id="line2d_429">
      <g>
       <use href="#mf81f3b6706" x="1261.05" y="1018.767703" style="stroke: #000000; stroke-width: 1.55"/>
      </g>
     </g>
    </g>
    <g id="ytick_121">
     <g id="line2d_430">
      <g>
       <use href="#mf9ce0bf6b2" x="618.1" y="1012.788659" style="stroke: #000000; stroke-width: 1.55"/>
      </g>
     </g>
     <g id="line2d_431">
      <g>
       <use href="#mf81f3b6706" x="1261.05" y="1012.788659" style="stroke: #000000; stroke-width: 1.55"/>
      </g>
     </g>
    </g>
    <g id="ytick_122">
     <g id="line2d_432">
      <g>
       <use href="#mf9ce0bf6b2" x="618.1" y="972.253852" style="stroke: #000000; stroke-width: 1.55"/>
      </g>
     </g>
     <g id="line2d_433">
      <g>
       <use href="#mf81f3b6706" x="1261.05" y="972.253852" style="stroke: #000000; stroke-width: 1.55"/>
      </g>
     </g>
    </g>
    <g id="ytick_123">
     <g id="line2d_434">
      <g>
       <use href="#mf9ce0bf6b2" x="618.1" y="951.671144" style="stroke: #000000; stroke-width: 1.55"/>
      </g>
     </g>
     <g id="line2d_435">
      <g>
       <use href="#mf81f3b6706" x="1261.05" y="951.671144" style="stroke: #000000; stroke-width: 1.55"/>
      </g>
     </g>
    </g>
    <g id="ytick_124">
     <g id="line2d_436">
      <g>
       <use href="#mf9ce0bf6b2" x="618.1" y="937.067481" style="stroke: #000000; stroke-width: 1.55"/>
      </g>
     </g>
     <g id="line2d_437">
      <g>
       <use href="#mf81f3b6706" x="1261.05" y="937.067481" style="stroke: #000000; stroke-width: 1.55"/>
      </g>
     </g>
    </g>
    <g id="ytick_125">
     <g id="line2d_438">
      <g>
       <use href="#mf9ce0bf6b2" x="618.1" y="925.74" style="stroke: #000000; stroke-width: 1.55"/>
      </g>
     </g>
     <g id="line2d_439">
      <g>
       <use href="#mf81f3b6706" x="1261.05" y="925.74" style="stroke: #000000; stroke-width: 1.55"/>
      </g>
     </g>
    </g>
    <g id="text_48">
     <!-- Cost of GHG Removal (\$/tCO$_2$e) -->
     <g transform="translate(476.0269 1416.0367) rotate(-90)">
      <text>
       <tspan x="0" y="-0.171875" style="font-size: 34.444444px">C</tspan>
       <tspan x="24.089355" y="-0.171875" style="font-size: 34.444444px">o</tspan>
       <tspan x="45.197021" y="-0.171875" style="font-size: 34.444444px">s</tspan>
       <tspan x="63.171387" y="-0.171875" style="font-size: 34.444444px">t</tspan>
       <tspan x="76.698486" y="-0.171875" style="font-size: 34.444444px"> </tspan>
       <tspan x="87.665039" y="-0.171875" style="font-size: 34.444444px">o</tspan>
       <tspan x="108.772705" y="-0.171875" style="font-size: 34.444444px">f</tspan>
       <tspan x="120.918457" y="-0.171875" style="font-size: 34.444444px"> </tspan>
       <tspan x="131.88501" y="-0.171875" style="font-size: 34.444444px">G</tspan>
       <tspan x="158.619141" y="-0.171875" style="font-size: 34.444444px">H</tspan>
       <tspan x="184.561523" y="-0.171875" style="font-size: 34.444444px">G</tspan>
       <tspan x="211.295654" y="-0.171875" style="font-size: 34.444444px"> </tspan>
       <tspan x="222.262207" y="-0.171875" style="font-size: 34.444444px">R</tspan>
       <tspan x="246.233643" y="-0.171875" style="font-size: 34.444444px">e</tspan>
       <tspan x="267.459229" y="-0.171875" style="font-size: 34.444444px">m</tspan>
       <tspan x="301.066406" y="-0.171875" style="font-size: 34.444444px">o</tspan>
       <tspan x="322.174072" y="-0.171875" style="font-size: 34.444444px">v</tspan>
       <tspan x="342.591064" y="-0.171875" style="font-size: 34.444444px">a</tspan>
       <tspan x="363.732422" y="-0.171875" style="font-size: 34.444444px">l</tspan>
       <tspan x="373.317627" y="-0.171875" style="font-size: 34.444444px"> </tspan>
       <tspan x="384.28418" y="-0.171875" style="font-size: 34.444444px">(</tspan>
       <tspan x="397.743896" y="-0.171875" style="font-size: 34.444444px">$</tspan>
       <tspan x="419.693848" y="-0.171875" style="font-size: 34.444444px">/</tspan>
       <tspan x="431.317383" y="-0.171875" style="font-size: 34.444444px">t</tspan>
       <tspan x="444.844482" y="-0.171875" style="font-size: 34.444444px">C</tspan>
       <tspan x="468.933838" y="-0.171875" style="font-size: 34.444444px">O</tspan>
       <tspan x="512.709155" y="-0.171875" style="font-size: 34.444444px">e</tspan>
       <tspan x="533.934741" y="-0.171875" style="font-size: 34.444444px">)</tspan>
       <tspan x="496.414502" y="5.40625" style="font-size: 24.111111px">2</tspan>
      </text>
     </g>
    </g>
   </g>
   <g id="line2d_440">
    <path d="M 971.39461 1339.413592 L 971.39461 1062.286561 
" clip-path="url(#p76f1e4a33b)" style="fill: none; stroke-dasharray: 4.477778,7.388333; stroke-dashoffset: 0; stroke: #009688; stroke-width: 4.477778"/>
   </g>
   <g id="line2d_441">
    <path d="M 1123.550317 1339.413592 L 1123.550317 961.101667 
" clip-path="url(#p76f1e4a33b)" style="fill: none; stroke-dasharray: 4.477778,7.388333; stroke-dashoffset: 0; stroke: #009688; stroke-width: 4.477778"/>
   </g>
   <g id="patch_17">
    <path d="M 618.1 1358.1 L 618.1 925.74 
" style="fill: none; stroke: #000000; stroke-width: 2.066667; stroke-linejoin: miter; stroke-linecap: square"/>
   </g>
   <g id="patch_18">
    <path d="M 1261.05 1358.1 L 1261.05 925.74 
" style="fill: none; stroke: #000000; stroke-width: 2.066667; stroke-linejoin: miter; stroke-linecap: square"/>
   </g>
   <g id="patch_19">
    <path d="M 618.1 1358.1 L 1261.05 1358.1 
" style="fill: none; stroke: #000000; stroke-width: 2.066667; stroke-linejoin: miter; stroke-linecap: square"/>
   </g>
   <g id="patch_20">
    <path d="M 618.1 925.74 L 1261.05 925.74 
" style="fill: none; stroke: #000000; stroke-width: 2.066667; stroke-linejoin: miter; stroke-linecap: square"/>
   </g>
   <g id="text_49">
    <g id="patch_21">
     <path d="M 998.395826 1218.834581 L 998.395826 1128.590136 Q 998.395826 1118.256803 988.062492 1118.256803 L 954.726728 1118.256803 Q 944.393395 1118.256803 944.393395 1128.590136 L 944.393395 1218.834581 Q 944.393395 1229.167914 954.726728 1229.167914 L 988.062492 1229.167914 Q 998.395826 1229.167914 998.395826 1218.834581 z
" style="fill: #ffffff"/>
    </g>
    <!-- PM$_{2.5}$ -->
    <g style="fill: #009688" transform="translate(980.899124 1218.834581) rotate(-90)">
     <text>
      <tspan x="0" y="-0.21875" style="font-size: 34.444444px; fill: #009688">P</tspan>
      <tspan x="20.804443" y="-0.21875" style="font-size: 34.444444px; fill: #009688">M</tspan>
      <tspan x="50.896191" y="5.359375" style="font-size: 24.111111px; fill: #009688">2</tspan>
      <tspan x="66.261157" y="5.359375" style="font-size: 24.111111px; fill: #009688">.</tspan>
      <tspan x="73.937744" y="5.359375" style="font-size: 24.111111px; fill: #009688">5</tspan>
     </text>
    </g>
   </g>
   <g id="text_50">
    <g id="patch_22">
     <path d="M 1150.551532 1201.872073 L 1150.551532 1119.205406 Q 1150.551532 1108.872073 1140.218199 1108.872073 L 1106.882435 1108.872073 Q 1096.549102 1108.872073 1096.549102 1119.205406 L 1096.549102 1201.872073 Q 1096.549102 1212.205406 1106.882435 1212.205406 L 1140.218199 1212.205406 Q 1150.551532 1212.205406 1150.551532 1201.872073 z
" style="fill: #ffffff"/>
    </g>
    <!-- PM$_{10}$ -->
    <g style="fill: #009688" transform="translate(1133.054831 1201.872073) rotate(-90)">
     <text>
      <tspan x="0" y="-0.21875" style="font-size: 34.444444px; fill: #009688">P</tspan>
      <tspan x="20.804443" y="-0.21875" style="font-size: 34.444444px; fill: #009688">M</tspan>
      <tspan x="50.896191" y="5.359375" style="font-size: 24.111111px; fill: #009688">1</tspan>
      <tspan x="66.261157" y="5.359375" style="font-size: 24.111111px; fill: #009688">0</tspan>
     </text>
    </g>
   </g>
   <g id="text_51">
    <text style="font-weight: 700; font-size: 34.444444px; text-anchor: start" x="425.215" y="817.620572" transform="rotate(-0 425.215 817.620572)">(c)</text>
   </g>
   <g id="text_52">
    <text style="font-size: 34.444444px" transform="translate(562.8352 866.9966)">Effect of Particle Size on GHG Removal Cost</text>
    <!-- (With \$100/tCO$_2$e for 1$\mu$m particles in lower tropo.) -->
    <g transform="translate(497.4639 905.5733)">
     <text>
      <tspan x="0" y="-0.171875" style="font-size: 34.444444px">(</tspan>
      <tspan x="13.459717" y="-0.171875" style="font-size: 34.444444px">W</tspan>
      <tspan x="47.572266" y="-0.171875" style="font-size: 34.444444px">i</tspan>
      <tspan x="57.157471" y="-0.171875" style="font-size: 34.444444px">t</tspan>
      <tspan x="70.68457" y="-0.171875" style="font-size: 34.444444px">h</tspan>
      <tspan x="92.550293" y="-0.171875" style="font-size: 34.444444px"> </tspan>
      <tspan x="103.516846" y="-0.171875" style="font-size: 34.444444px">$</tspan>
      <tspan x="125.466797" y="-0.171875" style="font-size: 34.444444px">1</tspan>
      <tspan x="147.416748" y="-0.171875" style="font-size: 34.444444px">0</tspan>
      <tspan x="169.366699" y="-0.171875" style="font-size: 34.444444px">0</tspan>
      <tspan x="191.31665" y="-0.171875" style="font-size: 34.444444px">/</tspan>
      <tspan x="202.940186" y="-0.171875" style="font-size: 34.444444px">t</tspan>
      <tspan x="216.467285" y="-0.171875" style="font-size: 34.444444px">C</tspan>
      <tspan x="240.556641" y="-0.171875" style="font-size: 34.444444px">O</tspan>
      <tspan x="284.331958" y="-0.171875" style="font-size: 34.444444px">e</tspan>
      <tspan x="305.557544" y="-0.171875" style="font-size: 34.444444px"> </tspan>
      <tspan x="316.524097" y="-0.171875" style="font-size: 34.444444px">f</tspan>
      <tspan x="328.669849" y="-0.171875" style="font-size: 34.444444px">o</tspan>
      <tspan x="349.777515" y="-0.171875" style="font-size: 34.444444px">r</tspan>
      <tspan x="363.961597" y="-0.171875" style="font-size: 34.444444px"> </tspan>
      <tspan x="374.928149" y="-0.171875" style="font-size: 34.444444px">1</tspan>
      <tspan x="418.828052" y="-0.171875" style="font-size: 34.444444px">m</tspan>
      <tspan x="452.435229" y="-0.171875" style="font-size: 34.444444px"> </tspan>
      <tspan x="463.401782" y="-0.171875" style="font-size: 34.444444px">p</tspan>
      <tspan x="485.301196" y="-0.171875" style="font-size: 34.444444px">a</tspan>
      <tspan x="506.442554" y="-0.171875" style="font-size: 34.444444px">r</tspan>
      <tspan x="520.626636" y="-0.171875" style="font-size: 34.444444px">t</tspan>
      <tspan x="534.153735" y="-0.171875" style="font-size: 34.444444px">i</tspan>
      <tspan x="543.73894" y="-0.171875" style="font-size: 34.444444px">c</tspan>
      <tspan x="562.707202" y="-0.171875" style="font-size: 34.444444px">l</tspan>
      <tspan x="572.292407" y="-0.171875" style="font-size: 34.444444px">e</tspan>
      <tspan x="593.517993" y="-0.171875" style="font-size: 34.444444px">s</tspan>
      <tspan x="611.492358" y="-0.171875" style="font-size: 34.444444px"> </tspan>
      <tspan x="622.458911" y="-0.171875" style="font-size: 34.444444px">i</tspan>
      <tspan x="632.044116" y="-0.171875" style="font-size: 34.444444px">n</tspan>
      <tspan x="653.909839" y="-0.171875" style="font-size: 34.444444px"> </tspan>
      <tspan x="664.876392" y="-0.171875" style="font-size: 34.444444px">l</tspan>
      <tspan x="674.461597" y="-0.171875" style="font-size: 34.444444px">o</tspan>
      <tspan x="695.569263" y="-0.171875" style="font-size: 34.444444px">w</tspan>
      <tspan x="723.785815" y="-0.171875" style="font-size: 34.444444px">e</tspan>
      <tspan x="745.011401" y="-0.171875" style="font-size: 34.444444px">r</tspan>
      <tspan x="759.195483" y="-0.171875" style="font-size: 34.444444px"> </tspan>
      <tspan x="770.162036" y="-0.171875" style="font-size: 34.444444px">t</tspan>
      <tspan x="783.689136" y="-0.171875" style="font-size: 34.444444px">r</tspan>
      <tspan x="797.873218" y="-0.171875" style="font-size: 34.444444px">o</tspan>
      <tspan x="818.980884" y="-0.171875" style="font-size: 34.444444px">p</tspan>
      <tspan x="840.880298" y="-0.171875" style="font-size: 34.444444px">o</tspan>
      <tspan x="861.987964" y="-0.171875" style="font-size: 34.444444px">.</tspan>
      <tspan x="872.954517" y="-0.171875" style="font-size: 34.444444px">)</tspan>
      <tspan x="268.037305" y="5.40625" style="font-size: 24.111111px">2</tspan>
      <tspan x="396.878101" y="-0.171875" style="font-style: oblique; font-size: 34.444444px">μ</tspan>
     </text>
    </g>
   </g>
   <g id="line2d_442">
    <path d="M 618.1 1221.544281 L 627.792714 1218.403726 L 637.485427 1215.073355 L 650.409045 1210.377405 L 663.332663 1205.43464 L 679.487186 1198.974264 L 695.641709 1192.265629 L 715.027136 1183.965738 L 737.643467 1174.029454 L 763.490704 1162.43775 L 795.799749 1147.700761 L 831.339698 1131.244073 L 863.648744 1116.055747 L 892.726884 1102.140949 L 915.343216 1091.090256 L 934.728643 1081.399653 L 954.11407 1071.444008 L 970.268593 1062.892595 L 986.423116 1054.057776 L 999.346734 1046.750614 L 1012.270352 1039.200686 L 1025.19397 1031.380658 L 1038.117588 1023.264921 L 1051.041206 1014.830988 L 1063.964824 1006.060885 L 1076.888442 996.942349 L 1089.81206 987.469719 L 1102.735678 977.644356 L 1115.659296 967.47456 L 1128.582915 956.974984 L 1141.506533 946.165631 L 1154.430151 935.070571 L 1167.353769 923.716549 L 1183.508291 909.202602 L 1199.662814 894.382526 L 1219.048241 876.267228 L 1241.664573 854.77691 L 1261.05 836.128984 L 1261.05 836.128984 
" clip-path="url(#p76f1e4a33b)" style="fill: none; stroke: #0c3cff; stroke-width: 4.477778; stroke-linecap: square"/>
   </g>
   <g id="line2d_443">
    <path d="M 618.1 1258.827013 L 624.561809 1257.796108 L 634.254523 1255.966381 L 643.947236 1253.81766 L 653.63995 1251.375406 L 663.332663 1248.666048 L 673.025377 1245.716054 L 682.71809 1242.551163 L 692.410804 1239.195797 L 705.334422 1234.464613 L 718.25804 1229.483124 L 734.412563 1222.966813 L 750.567085 1216.190052 L 769.952513 1207.785069 L 789.33794 1199.140359 L 811.954271 1188.801222 L 834.570603 1178.209781 L 857.186935 1167.352634 L 876.572362 1157.798303 L 892.726884 1149.621625 L 908.881407 1141.204568 L 921.805025 1134.261898 L 934.728643 1127.098213 L 947.652261 1119.676543 L 960.575879 1111.956493 L 970.268593 1105.94507 L 979.961307 1099.723681 L 989.65402 1093.274556 L 999.346734 1086.580987 L 1009.039447 1079.628007 L 1018.732161 1072.403104 L 1028.424874 1064.896879 L 1038.117588 1057.103619 L 1047.810302 1049.021724 L 1057.503015 1040.65393 L 1067.195729 1032.007326 L 1076.888442 1023.093143 L 1086.581156 1013.926344 L 1099.504774 1001.3427 L 1112.428392 988.39201 L 1125.35201 975.128616 L 1141.506533 958.195254 L 1160.89196 937.497439 L 1186.739196 909.536327 L 1238.433668 853.536548 L 1261.05 829.352622 L 1261.05 829.352622 
" clip-path="url(#p76f1e4a33b)" style="fill: none; stroke-dasharray: 16.567778,7.164444; stroke-dashoffset: 0; stroke: #e3061b; stroke-width: 4.477778"/>
   </g>
   <g id="legend_3">
    <g id="patch_23">
     <path d="M 752.800694 1344.322222 L 1241.761111 1344.322222 Q 1247.272222 1344.322222 1247.272222 1338.811111 L 1247.272222 1260.673889 Q 1247.272222 1255.162778 1241.761111 1255.162778 L 752.800694 1255.162778 Q 747.289583 1255.162778 747.289583 1260.673889 L 747.289583 1338.811111 Q 747.289583 1344.322222 752.800694 1344.322222 z
" style="fill: #ffffff; stroke: #cccccc; stroke-width: 3.444444; stroke-linejoin: miter"/>
    </g>
    <g id="line2d_444">
     <path d="M 758.311806 1277.478472 L 785.867361 1277.478472 L 813.422917 1277.478472 
" style="fill: none; stroke: #0c3cff; stroke-width: 4.477778; stroke-linecap: square"/>
    </g>
    <g id="text_53">
     <text style="font-size: 27.555556px; text-anchor: start" x="834.9674" y="1287.8229" transform="rotate(-0 834.9674 1287.8229)">Lower Troposphere (&lt;1.5km)</text>
    </g>
    <g id="line2d_445">
     <path d="M 758.311806 1317.924861 L 785.867361 1317.924861 L 813.422917 1317.924861 
" style="fill: none; stroke-dasharray: 16.567778,7.164444; stroke-dashoffset: 0; stroke: #e3061b; stroke-width: 4.477778"/>
    </g>
    <g id="text_54">
     <text style="font-size: 27.555556px; text-anchor: start" x="834.9674" y="1328.2693" transform="rotate(-0 834.9674 1328.2693)">Upper Troposphere (&gt;1.5km)</text>
    </g>
   </g>
  </g>
 </g>
 <defs>
  <clipPath id="pf84088dabc">
   <rect x="189.20" y="132.90" width="580.76" height="435.05"/>
  </clipPath>
  <clipPath id="p70f6478031">
   <rect x="1108.90" y="132.90" width="602.20" height="435.10"/>
  </clipPath>
  <clipPath id="p76f1e4a33b">
   <rect x="617.10" y="924.74" width="644.95" height="434.36"/>
  </clipPath>
 </defs>
</svg>

</body></html>
